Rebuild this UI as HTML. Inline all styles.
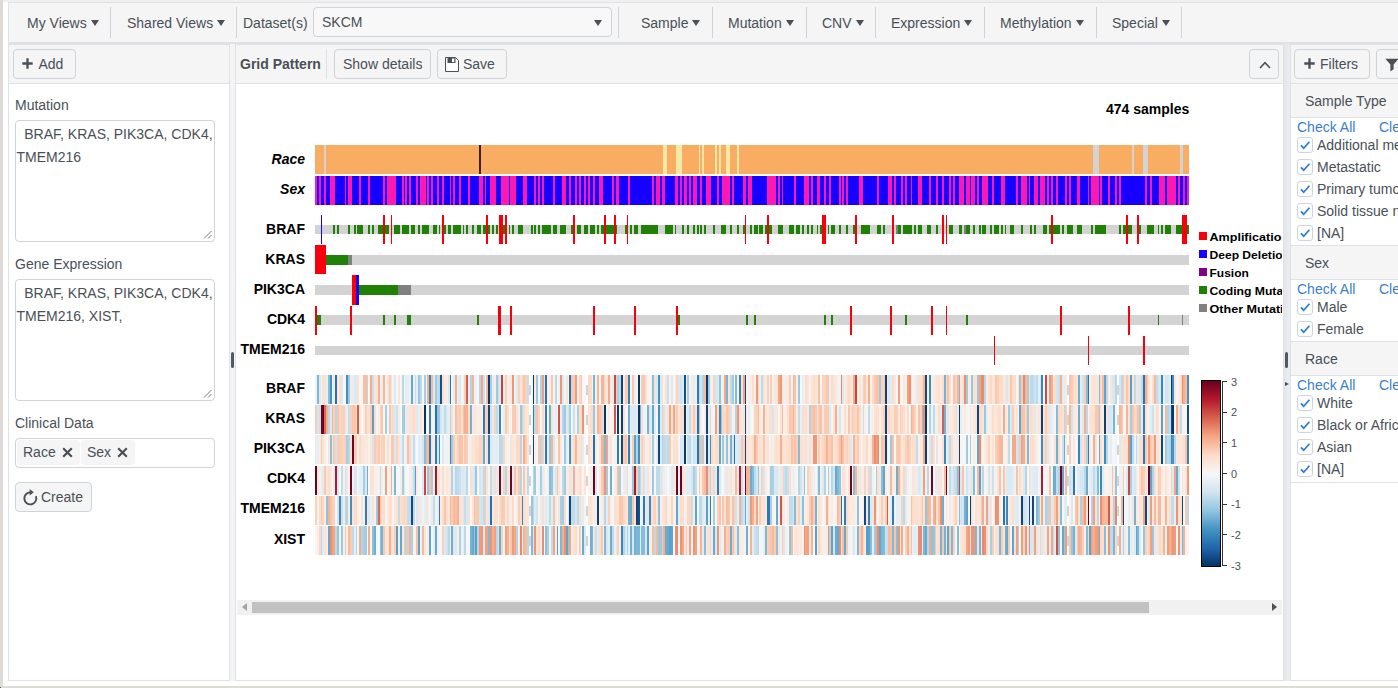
<!DOCTYPE html>
<html><head><meta charset="utf-8"><title>Grid Pattern</title>
<style>
*{box-sizing:border-box}
html,body{margin:0;padding:0}
body{width:1398px;height:688px;overflow:hidden;position:relative;background:#fff;font-family:"Liberation Sans",sans-serif;font-size:14px;color:#495057}
.abs{position:absolute}
#edgeL{left:0;top:0;width:3px;height:688px;background:#dedbd6}
#edgeT{left:3px;top:0;width:1395px;height:2px;background:#f0f0f0}
#edgeB{left:0;top:686px;width:1398px;height:2px;background:#dedbd6}
#toolbar{left:8px;top:2px;width:1400px;height:41px;background:#f5f5f5;border:1px solid #dee2e6}
#strip{left:8px;top:42px;width:1400px;height:2px;background:#dfe1e5}
.mi{position:absolute;top:15px;height:16px;line-height:16px;white-space:nowrap}
.mi:after{content:"";display:inline-block;margin-left:4px;border-left:4px solid transparent;border-right:4px solid transparent;border-top:6px solid #495057;vertical-align:2px}
.sep{position:absolute;top:7px;width:1px;height:31px;background:#cfd2d6}
.btn{position:absolute;height:30px;border:1px solid #ced4da;border-radius:4px;background:#f5f5f5;line-height:28px;white-space:nowrap;color:#495057}
.btn span{position:absolute;top:0;line-height:28px}
.btn svg{position:absolute}
.panel{position:absolute;border:1px solid #dee2e6;background:#fff}
.phead{position:absolute;left:0;top:0;right:0;height:39px;background:#f5f5f5;border-bottom:1px solid #dee2e6}
.lbl{position:absolute;white-space:nowrap;line-height:16px}
.ta{position:absolute;left:15px;width:200px;height:122px;border:1px solid #ced4da;border-radius:4px;background:#fff;padding:2px 0 0 0.5px;line-height:23px;white-space:pre}
.gl{position:absolute;white-space:nowrap;font-weight:bold;color:#000;right:1093px;line-height:16px}
.fh{position:absolute;left:1291px;width:120px;height:35px;background:#f5f5f5;border-top:1px solid #dee2e6;border-bottom:1px solid #dee2e6}
.fh span{position:absolute;left:14px;top:9px;line-height:16px;white-space:nowrap}
.lnk{position:absolute;color:#3a80c9;white-space:nowrap;line-height:16px}
.cb{position:absolute;left:1297px;width:16px;height:16px;border:1px solid #ced4da;border-radius:3px;background:#fff}
.cb svg{position:absolute;left:1px;top:1px}
.cl{position:absolute;left:1317px;white-space:nowrap;line-height:16px}
.grip{position:absolute;width:3px;height:16px;border-radius:1.5px;background:#52586a;top:352px}
</style></head><body>
<div class="abs" id="edgeT"></div>
<div class="abs" id="toolbar"></div>
<div class="abs" id="strip"></div>
<span class="mi" style="left:27px">My Views</span>
<div class="sep" style="left:110px"></div>
<span class="mi" style="left:127px">Shared Views</span>
<div class="sep" style="left:236px"></div>
<span class="lbl" style="left:243px;top:15px">Dataset(s)</span>
<div class="abs" style="left:313px;top:7px;width:299px;height:30px;border:1px solid #ced4da;border-radius:4px;background:#f8f8f8"><span class="lbl" style="left:8px;top:6px">SKCM</span><span class="abs" style="left:280px;top:12px;border-left:4px solid transparent;border-right:4px solid transparent;border-top:6px solid #495057"></span></div>
<div class="sep" style="left:618px"></div>
<span class="mi" style="left:641px">Sample</span>
<div class="sep" style="left:712px"></div>
<span class="mi" style="left:728px">Mutation</span>
<div class="sep" style="left:806px"></div>
<span class="mi" style="left:822px">CNV</span>
<div class="sep" style="left:875px"></div>
<span class="mi" style="left:891px">Expression</span>
<div class="sep" style="left:984px"></div>
<span class="mi" style="left:1000px">Methylation</span>
<div class="sep" style="left:1096px"></div>
<span class="mi" style="left:1112px">Special</span>
<div class="sep" style="left:1181px"></div>

<!-- left panel -->
<div class="panel" style="left:8px;top:44px;width:222px;height:637px">
 <div class="phead"></div>
</div>
<div class="btn" style="left:13px;top:49px;width:63px"><svg style="left:8px;top:8px" width="11" height="11" viewBox="0 0 11 11"><path d="M5.5 0.3v10.4M0.3 5.5h10.4" stroke="#495057" stroke-width="2.3" fill="none"/></svg><span style="left:24.5px">Add</span></div>
<span class="lbl" style="left:15px;top:97px">Mutation</span>
<div class="ta" style="top:120px">  BRAF, KRAS, PIK3CA, CDK4,
TMEM216<svg class="abs" style="right:2px;bottom:2px" width="9" height="9" viewBox="0 0 9 9"><path d="M8.5 1L1 8.5M8.5 5L5 8.5" stroke="#777" stroke-width="1" fill="none"/></svg></div>
<span class="lbl" style="left:15px;top:256px">Gene Expression</span>
<div class="ta" style="top:279px">  BRAF, KRAS, PIK3CA, CDK4,
TMEM216, XIST,<svg class="abs" style="right:2px;bottom:2px" width="9" height="9" viewBox="0 0 9 9"><path d="M8.5 1L1 8.5M8.5 5L5 8.5" stroke="#777" stroke-width="1" fill="none"/></svg></div>
<span class="lbl" style="left:15px;top:415px">Clinical Data</span>
<div class="abs" style="left:15px;top:438px;width:200px;height:30px;border:1px solid #ced4da;border-radius:4px;background:#fff"></div>
<div class="abs" style="left:17px;top:440px;width:63px;height:25px;background:#f5f5f5;border-radius:4px"><span class="lbl" style="left:6px;top:4px">Race</span><svg class="abs" style="left:45px;top:7px" width="11" height="11" viewBox="0 0 11 11"><path d="M1.2 1.2l8.6 8.6M9.8 1.2l-8.6 8.6" stroke="#495057" stroke-width="2.2" fill="none"/></svg></div>
<div class="abs" style="left:81px;top:440px;width:54px;height:25px;background:#f5f5f5;border-radius:4px"><span class="lbl" style="left:6px;top:4px">Sex</span><svg class="abs" style="left:36px;top:7px" width="11" height="11" viewBox="0 0 11 11"><path d="M1.2 1.2l8.6 8.6M9.8 1.2l-8.6 8.6" stroke="#495057" stroke-width="2.2" fill="none"/></svg></div>
<div class="btn" style="left:15px;top:482px;width:77px"><svg style="left:6px;top:6px" width="16" height="17" viewBox="0 0 16 17"><path d="M8.6 3.4A6 6 0 1 0 13.9 7.2" stroke="#495057" stroke-width="1.9" fill="none"/><path d="M7.6 0L11.8 3.3L7.6 6.6z" fill="#495057"/></svg><span style="left:25px">Create</span></div>

<!-- gutters -->
<div class="abs" style="left:229px;top:44px;width:7px;height:637px;background:#f4f4f5;border-left:1px solid #dfe1e5;border-right:1px solid #dfe1e5"></div>
<div class="grip" style="left:231px"></div>

<!-- center panel -->
<div class="panel" style="left:235px;top:44px;width:1049px;height:637px;border-right:none">
 <div class="phead"></div>
</div>
<span class="lbl" style="left:240px;top:56px;font-weight:bold">Grid Pattern</span>
<div class="sep" style="left:326px;top:49px;height:30px;background:#dee2e6"></div>
<div class="btn" style="left:334px;top:49px;width:97px"><span style="left:8px">Show details</span></div>
<div class="btn" style="left:437px;top:49px;width:70px"><svg style="left:7px;top:7px" width="15" height="15" viewBox="0 0 15 15"><path d="M0.5 0.5H10.5L13.5 3.5V14.5H0.5z" fill="#fff" stroke="#495057" stroke-width="1"/><path d="M2.5 1h8v5h-8z" fill="#495057"/><path d="M7 1.5h2.3v3.6H7z" fill="#fff"/></svg><span style="left:25px">Save</span></div>
<div class="btn" style="left:1249px;top:49px;width:30px"><svg style="left:9px;top:11px" width="12" height="8" viewBox="0 0 12 8"><path d="M1 7L6 1.6L11 7" stroke="#495057" stroke-width="1.6" fill="none"/></svg></div>
<svg id="fig" width="1046" height="520" viewBox="236 84 1046 520" style="position:absolute;left:236px;top:84px" shape-rendering="crispEdges">
<path fill="#f9ad62" d="M315 145h874v29h-874z"/>
<path fill="#f6e9a8" d="M663 145h4v29h-4zM676 145h6v29h-6zM699 145h1v29h-1zM702 145h2v29h-2zM715 145h2v29h-2zM719 145h2v29h-2zM726 145h4v29h-4zM737 145h2v29h-2z"/>
<path fill="#d3d3d3" d="M324 145h2v29h-2zM1093 145h6v29h-6zM1132 145h2v29h-2zM1143 145h5v29h-5zM1180 145h3v29h-3zM315 225h874v9h-874zM315 255h874v10h-874zM315 285h874v10h-874zM315 315h874v10h-874zM315 346h874v9h-874zM529 385h2v9.6h-2zM586 385h2v9.6h-2zM1067 385h2v9.6h-2zM1117 385h2v9.6h-2zM529 415h2v9.6h-2zM586 415h2v9.6h-2zM1067 415h2v9.6h-2zM1117 415h2v9.6h-2zM529 445h2v9.6h-2zM586 445h2v9.6h-2zM1067 445h2v9.6h-2zM1117 445h2v9.6h-2zM529 476h2v9.6h-2zM586 476h2v9.6h-2zM1067 476h2v9.6h-2zM1117 476h2v9.6h-2zM529 506h2v9.6h-2zM586 506h2v9.6h-2zM1067 506h2v9.6h-2zM1117 506h2v9.6h-2zM529 536h2v9.6h-2zM586 536h2v9.6h-2zM1067 536h2v9.6h-2zM1117 536h2v9.6h-2z"/>
<path fill="#3a2318" d="M479 145h2v29h-2z"/>
<path fill="#1600ff" d="M315 176h874v29h-874z"/>
<path fill="#fb19b1" d="M315 176h2v29h-2zM319 176h2v29h-2zM324 176h2v29h-2zM330 176h5v29h-5zM345 176h1v29h-1zM348 176h4v29h-4zM359 176h2v29h-2zM368 176h2v29h-2zM383 176h2v29h-2zM387 176h9v29h-9zM402 176h2v29h-2zM405 176h2v29h-2zM409 176h2v29h-2zM416 176h2v29h-2zM420 176h6v29h-6zM427 176h2v29h-2zM431 176h2v29h-2zM437 176h2v29h-2zM442 176h2v29h-2zM450 176h1v29h-1zM453 176h2v29h-2zM459 176h2v29h-2zM468 176h2v29h-2zM479 176h4v29h-4zM485 176h1v29h-1zM490 176h6v29h-6zM501 176h8v29h-8zM510 176h6v29h-6zM523 176h4v29h-4zM534 176h2v29h-2zM538 176h2v29h-2zM542 176h2v29h-2zM553 176h2v29h-2zM562 176h4v29h-4zM569 176h2v29h-2zM575 176h2v29h-2zM579 176h2v29h-2zM584 176h2v29h-2zM588 176h2v29h-2zM593 176h2v29h-2zM599 176h4v29h-4zM612 176h2v29h-2zM616 176h3v29h-3zM628 176h2v29h-2zM652 176h2v29h-2zM656 176h4v29h-4zM662 176h3v29h-3zM675 176h3v29h-3zM680 176h2v29h-2zM684 176h3v29h-3zM689 176h2v29h-2zM693 176h4v29h-4zM700 176h2v29h-2zM706 176h5v29h-5zM717 176h2v29h-2zM722 176h8v29h-8zM732 176h2v29h-2zM743 176h3v29h-3zM748 176h4v29h-4zM767 176h9v29h-9zM778 176h2v29h-2zM782 176h1v29h-1zM794 176h2v29h-2zM804 176h5v29h-5zM811 176h2v29h-2zM817 176h3v29h-3zM824 176h2v29h-2zM829 176h2v29h-2zM839 176h2v29h-2zM842 176h2v29h-2zM846 176h2v29h-2zM859 176h4v29h-4zM877 176h2v29h-2zM888 176h4v29h-4zM894 176h2v29h-2zM901 176h2v29h-2zM905 176h2v29h-2zM911 176h1v29h-1zM918 176h4v29h-4zM929 176h2v29h-2zM936 176h2v29h-2zM942 176h2v29h-2zM949 176h2v29h-2zM953 176h2v29h-2zM959 176h5v29h-5zM966 176h4v29h-4zM971 176h4v29h-4zM977 176h2v29h-2zM982 176h6v29h-6zM992 176h2v29h-2zM1001 176h4v29h-4zM1016 176h2v29h-2zM1021 176h6v29h-6zM1029 176h1v29h-1zM1034 176h4v29h-4zM1040 176h5v29h-5zM1047 176h2v29h-2zM1051 176h2v29h-2zM1056 176h2v29h-2zM1065 176h2v29h-2zM1069 176h2v29h-2zM1077 176h3v29h-3zM1088 176h1v29h-1zM1091 176h8v29h-8zM1100 176h2v29h-2zM1108 176h2v29h-2zM1115 176h2v29h-2zM1119 176h2v29h-2zM1145 176h2v29h-2zM1150 176h2v29h-2zM1159 176h6v29h-6zM1167 176h9v29h-9zM1178 176h2v29h-2zM1183 176h2v29h-2zM1187 176h2v29h-2z"/>
<path fill="#1f8207" d="M333 225h2v9h-2zM337 225h2v9h-2zM348 225h2v9h-2zM354 225h2v9h-2zM357 225h6v9h-6zM368 225h2v9h-2zM372 225h2v9h-2zM378 225h11v9h-11zM394 225h6v9h-6zM402 225h7v9h-7zM411 225h4v9h-4zM418 225h2v9h-2zM422 225h7v9h-7zM433 225h4v9h-4zM439 225h1v9h-1zM442 225h4v9h-4zM448 225h3v9h-3zM453 225h8v9h-8zM463 225h1v9h-1zM466 225h2v9h-2zM472 225h2v9h-2zM477 225h4v9h-4zM483 225h7v9h-7zM492 225h2v9h-2zM496 225h2v9h-2zM499 225h6v9h-6zM509 225h1v9h-1zM512 225h2v9h-2zM518 225h5v9h-5zM531 225h2v9h-2zM534 225h2v9h-2zM538 225h2v9h-2zM542 225h9v9h-9zM553 225h4v9h-4zM560 225h6v9h-6zM571 225h4v9h-4zM577 225h4v9h-4zM584 225h4v9h-4zM590 225h5v9h-5zM597 225h2v9h-2zM601 225h16v9h-16zM625 225h3v9h-3zM630 225h2v9h-2zM634 225h4v9h-4zM641 225h17v9h-17zM665 225h8v9h-8zM675 225h1v9h-1zM682 225h2v9h-2zM687 225h2v9h-2zM693 225h2v9h-2zM697 225h2v9h-2zM700 225h2v9h-2zM704 225h2v9h-2zM713 225h2v9h-2zM721 225h5v9h-5zM730 225h2v9h-2zM737 225h2v9h-2zM743 225h3v9h-3zM750 225h2v9h-2zM754 225h4v9h-4zM759 225h4v9h-4zM765 225h7v9h-7zM778 225h5v9h-5zM789 225h5v9h-5zM796 225h4v9h-4zM802 225h2v9h-2zM807 225h2v9h-2zM811 225h2v9h-2zM817 225h1v9h-1zM820 225h6v9h-6zM828 225h1v9h-1zM831 225h4v9h-4zM839 225h2v9h-2zM846 225h2v9h-2zM853 225h4v9h-4zM861 225h9v9h-9zM877 225h4v9h-4zM883 225h2v9h-2zM898 225h3v9h-3zM903 225h9v9h-9zM914 225h2v9h-2zM918 225h4v9h-4zM927 225h4v9h-4zM936 225h2v9h-2zM949 225h4v9h-4zM959 225h3v9h-3zM966 225h4v9h-4zM973 225h2v9h-2zM979 225h2v9h-2zM982 225h4v9h-4zM990 225h2v9h-2zM994 225h5v9h-5zM1001 225h2v9h-2zM1005 225h1v9h-1zM1010 225h4v9h-4zM1021 225h2v9h-2zM1030 225h2v9h-2zM1034 225h2v9h-2zM1043 225h4v9h-4zM1049 225h11v9h-11zM1062 225h2v9h-2zM1067 225h6v9h-6zM1077 225h5v9h-5zM1091 225h2v9h-2zM1095 225h11v9h-11zM1119 225h2v9h-2zM1123 225h9v9h-9zM1137 225h4v9h-4zM1147 225h7v9h-7zM1158 225h1v9h-1zM1161 225h2v9h-2zM1165 225h6v9h-6zM1176 225h13v9h-13zM326 255h22v10h-22zM359 285h39v10h-39zM317 315h4v10h-4zM383 315h2v10h-2zM394 315h2v10h-2zM407 315h4v10h-4zM477 315h2v10h-2zM678 315h2v10h-2zM746 315h2v10h-2zM754 315h2v10h-2zM824 315h2v10h-2zM831 315h2v10h-2zM905 315h2v10h-2zM966 315h2v10h-2zM1158 315h1v10h-1z"/>
<path fill="#808080" d="M896 225h2v9h-2zM964 225h2v9h-2zM348 255h4v10h-4zM398 285h13v10h-13zM1182 315h1v10h-1z"/>
<path fill="#f7000c" d="M383 215h2v29h-2zM391 215h1v29h-1zM442 215h2v29h-2zM486 215h2v29h-2zM499 215h4v29h-4zM505 215h2v29h-2zM573 215h2v29h-2zM604 215h2v29h-2zM614 215h2v29h-2zM627 215h1v29h-1zM745 215h1v29h-1zM767 215h2v29h-2zM822 215h4v29h-4zM855 215h2v29h-2zM892 215h2v29h-2zM942 215h2v29h-2zM946 215h1v29h-1zM1051 215h2v29h-2zM1126 215h2v29h-2zM1137 215h2v29h-2zM1182 215h5v29h-5zM315 245h11v29h-11zM352 275h4v30h-4zM315 306h2v29h-2zM350 306h2v29h-2zM498 306h3v29h-3zM510 306h2v29h-2zM593 306h2v29h-2zM634 306h2v29h-2zM676 306h2v29h-2zM850 306h2v29h-2zM890 306h2v29h-2zM931 306h2v29h-2zM946 306h1v29h-1zM1060 306h2v29h-2zM1128 306h2v29h-2zM994 336h1v29h-1zM1088 336h1v29h-1zM1143 336h2v29h-2z"/>
<path fill="#1a00ff" d="M321 215h1v29h-1zM356 275h3v30h-3z"/>
<path fill="#eef2f5" d="M315 375h2v29h-2zM385 375h2v29h-2zM413 375h2v29h-2zM463 375h1v29h-1zM474 375h3v29h-3zM514 375h2v29h-2zM558 375h2v29h-2zM577 375h2v29h-2zM595 375h2v29h-2zM695 375h2v29h-2zM711 375h2v29h-2zM721 375h1v29h-1zM772 375h2v29h-2zM852 375h1v29h-1zM970 375h1v29h-1zM433 405h2v29h-2zM544 405h1v29h-1zM553 405h2v29h-2zM560 405h2v29h-2zM595 405h2v29h-2zM643 405h2v29h-2zM711 405h2v29h-2zM931 405h2v29h-2zM935 405h1v29h-1zM1123 405h1v29h-1zM389 435h2v29h-2zM404 435h3v29h-3zM415 435h1v29h-1zM446 435h2v29h-2zM468 435h2v29h-2zM505 435h2v29h-2zM630 435h2v29h-2zM852 435h1v29h-1zM1040 435h1v29h-1zM1053 435h1v29h-1zM1108 435h2v29h-2zM1115 435h2v29h-2zM1134 435h2v29h-2zM343 466h2v29h-2zM352 466h2v29h-2zM392 466h2v29h-2zM538 466h2v29h-2zM547 466h2v29h-2zM665 466h2v29h-2zM669 466h2v29h-2zM675 466h1v29h-1zM743 466h2v29h-2zM794 466h2v29h-2zM872 466h2v29h-2zM964 466h2v29h-2zM995 466h2v29h-2zM1014 466h2v29h-2zM1047 466h2v29h-2zM1064 466h1v29h-1zM1119 466h4v29h-4zM363 496h2v29h-2zM610 496h2v29h-2zM641 496h2v29h-2zM778 496h2v29h-2zM817 496h1v29h-1zM1030 496h2v29h-2zM1130 496h2v29h-2zM343 526h2v29h-2zM398 526h2v29h-2zM420 526h2v29h-2zM437 526h2v29h-2zM461 526h2v29h-2zM577 526h2v29h-2zM603 526h1v29h-1zM722 526h2v29h-2zM780 526h2v29h-2zM817 526h1v29h-1zM848 526h2v29h-2zM1165 526h2v29h-2z"/>
<path fill="#80b9d8" d="M317 375h2v29h-2zM1036 496h2v29h-2z"/>
<path fill="#daeaf2" d="M319 375h2v29h-2zM354 375h3v29h-3zM433 375h2v29h-2zM448 375h2v29h-2zM459 375h2v29h-2zM516 375h2v29h-2zM544 375h1v29h-1zM656 375h2v29h-2zM671 375h2v29h-2zM842 375h2v29h-2zM888 375h2v29h-2zM391 405h1v29h-1zM394 405h2v29h-2zM416 405h2v29h-2zM498 405h1v29h-1zM603 405h1v29h-1zM649 405h2v29h-2zM817 405h1v29h-1zM829 405h2v29h-2zM947 405h2v29h-2zM1010 405h2v29h-2zM1082 405h2v29h-2zM394 435h2v29h-2zM442 435h2v29h-2zM660 435h2v29h-2zM682 435h2v29h-2zM708 435h2v29h-2zM850 435h2v29h-2zM933 435h2v29h-2zM1047 435h2v29h-2zM365 466h2v29h-2zM404 466h1v29h-1zM422 466h2v29h-2zM671 466h2v29h-2zM719 466h2v29h-2zM817 466h1v29h-1zM822 466h2v29h-2zM857 466h2v29h-2zM960 466h2v29h-2zM1006 466h2v29h-2zM1010 466h2v29h-2zM1023 466h2v29h-2zM1126 466h2v29h-2zM1172 466h2v29h-2zM368 496h2v29h-2zM416 496h2v29h-2zM488 496h2v29h-2zM568 496h1v29h-1zM647 496h2v29h-2zM870 496h2v29h-2zM988 496h2v29h-2zM1148 496h2v29h-2zM444 526h2v29h-2zM453 526h4v29h-4zM533 526h1v29h-1zM584 526h2v29h-2zM616 526h1v29h-1zM625 526h2v29h-2zM715 526h2v29h-2zM719 526h2v29h-2zM970 526h1v29h-1zM1027 526h2v29h-2zM1041 526h2v29h-2zM1139 526h2v29h-2z"/>
<path fill="#f8f0eb" d="M321 375h1v29h-1zM332 375h1v29h-1zM380 375h1v29h-1zM409 375h2v29h-2zM503 375h2v29h-2zM547 375h2v29h-2zM592 375h1v29h-1zM651 375h1v29h-1zM722 375h2v29h-2zM737 375h2v29h-2zM796 375h2v29h-2zM809 375h2v29h-2zM870 375h2v29h-2zM931 375h2v29h-2zM422 405h2v29h-2zM431 405h2v29h-2zM612 405h2v29h-2zM971 405h2v29h-2zM988 405h2v29h-2zM1182 405h1v29h-1zM385 435h2v29h-2zM433 435h2v29h-2zM498 435h1v29h-1zM507 435h2v29h-2zM534 435h2v29h-2zM555 435h2v29h-2zM645 435h2v29h-2zM918 435h2v29h-2zM319 466h2v29h-2zM374 466h6v29h-6zM387 466h4v29h-4zM426 466h1v29h-1zM630 466h2v29h-2zM649 466h2v29h-2zM721 466h1v29h-1zM863 466h1v29h-1zM888 466h2v29h-2zM925 466h2v29h-2zM986 466h2v29h-2zM1088 466h1v29h-1zM1104 466h2v29h-2zM1108 466h4v29h-4zM422 496h2v29h-2zM429 496h2v29h-2zM435 496h2v29h-2zM538 496h2v29h-2zM669 496h2v29h-2zM673 496h3v29h-3zM772 496h2v29h-2zM824 496h2v29h-2zM829 496h2v29h-2zM835 496h2v29h-2zM855 496h2v29h-2zM888 496h2v29h-2zM894 496h2v29h-2zM999 496h2v29h-2zM339 526h2v29h-2zM346 526h2v29h-2zM413 526h2v29h-2zM426 526h1v29h-1zM450 526h1v29h-1zM518 526h2v29h-2zM549 526h2v29h-2zM743 526h2v29h-2zM855 526h2v29h-2zM1084 526h2v29h-2zM1126 526h2v29h-2z"/>
<path fill="#fbe3d4" d="M322 375h2v29h-2zM367 405h1v29h-1zM953 405h2v29h-2zM579 435h2v29h-2zM820 435h2v29h-2zM942 435h2v29h-2zM590 496h2v29h-2zM761 496h2v29h-2zM1003 526h2v29h-2z"/>
<path fill="#fce1d2" d="M324 375h2v29h-2zM741 375h2v29h-2zM962 375h2v29h-2zM368 405h2v29h-2zM451 405h2v29h-2zM739 405h2v29h-2zM486 435h2v29h-2zM809 435h2v29h-2zM1158 435h1v29h-1zM842 466h2v29h-2zM468 496h2v29h-2zM828 496h1v29h-1zM1147 526h1v29h-1z"/>
<path fill="#e5eef4" d="M326 375h2v29h-2zM1051 405h2v29h-2zM420 435h2v29h-2zM691 435h2v29h-2zM1137 435h2v29h-2zM623 466h2v29h-2zM1064 496h1v29h-1zM872 526h2v29h-2z"/>
<path fill="#87beda" d="M328 375h2v29h-2zM922 405h1v29h-1zM704 526h2v29h-2z"/>
<path fill="#4190c2" d="M330 375h2v29h-2z"/>
<path fill="#e4eef4" d="M333 375h2v29h-2zM352 375h2v29h-2zM381 375h2v29h-2zM407 375h2v29h-2zM416 375h2v29h-2zM453 375h2v29h-2zM457 375h2v29h-2zM468 375h2v29h-2zM492 375h2v29h-2zM612 375h2v29h-2zM693 375h2v29h-2zM802 375h2v29h-2zM829 375h2v29h-2zM1038 375h2v29h-2zM405 405h2v29h-2zM418 405h2v29h-2zM503 405h2v29h-2zM555 405h2v29h-2zM651 405h1v29h-1zM654 405h2v29h-2zM665 405h2v29h-2zM748 405h2v29h-2zM957 405h2v29h-2zM960 405h2v29h-2zM986 405h2v29h-2zM411 435h2v29h-2zM494 435h2v29h-2zM547 435h2v29h-2zM566 435h2v29h-2zM608 435h2v29h-2zM656 435h2v29h-2zM807 435h2v29h-2zM1110 435h2v29h-2zM333 466h2v29h-2zM361 466h2v29h-2zM411 466h2v29h-2zM453 466h2v29h-2zM501 466h2v29h-2zM542 466h2v29h-2zM616 466h1v29h-1zM678 466h2v29h-2zM689 466h2v29h-2zM724 466h2v29h-2zM728 466h2v29h-2zM759 466h2v29h-2zM793 466h1v29h-1zM811 466h2v29h-2zM866 466h2v29h-2zM935 466h1v29h-1zM968 466h2v29h-2zM1089 466h2v29h-2zM370 496h2v29h-2zM420 496h2v29h-2zM424 496h2v29h-2zM427 496h2v29h-2zM437 496h2v29h-2zM555 496h2v29h-2zM678 496h2v29h-2zM708 496h2v29h-2zM746 496h2v29h-2zM800 496h2v29h-2zM890 496h2v29h-2zM896 496h5v29h-5zM984 496h2v29h-2zM1005 496h1v29h-1zM1018 496h1v29h-1zM1128 496h2v29h-2zM1174 496h2v29h-2zM433 526h2v29h-2zM463 526h1v29h-1zM540 526h2v29h-2zM628 526h2v29h-2zM640 526h1v29h-1zM687 526h2v29h-2zM711 526h2v29h-2zM852 526h1v29h-1zM916 526h2v29h-2zM922 526h1v29h-1zM981 526h1v29h-1zM1038 526h2v29h-2zM1045 526h2v29h-2zM1049 526h2v29h-2zM1121 526h2v29h-2zM1124 526h2v29h-2z"/>
<path fill="#276fb0" d="M335 375h2v29h-2z"/>
<path fill="#faeae1" d="M337 375h2v29h-2zM509 375h3v29h-3zM741 405h2v29h-2zM1077 405h1v29h-1zM870 435h2v29h-2zM984 435h2v29h-2zM568 466h1v29h-1zM595 496h2v29h-2zM730 496h2v29h-2zM765 496h2v29h-2zM831 496h2v29h-2zM850 496h2v29h-2zM883 496h2v29h-2zM798 526h2v29h-2z"/>
<path fill="#fcddcb" d="M339 375h2v29h-2zM805 375h2v29h-2zM374 405h2v29h-2zM876 405h1v29h-1zM907 405h2v29h-2zM359 435h2v29h-2z"/>
<path fill="#dae9f2" d="M341 375h2v29h-2zM562 375h2v29h-2zM660 375h2v29h-2zM682 375h2v29h-2zM1112 375h1v29h-1zM634 405h2v29h-2zM687 405h2v29h-2zM680 435h2v29h-2zM905 466h2v29h-2zM1008 466h2v29h-2z"/>
<path fill="#f7f7f7" d="M343 375h2v29h-2zM396 375h2v29h-2zM477 375h2v29h-2zM531 375h2v29h-2zM582 375h4v29h-4zM599 375h2v29h-2zM769 375h1v29h-1zM800 375h2v29h-2zM820 375h2v29h-2zM900 375h1v29h-1zM927 375h2v29h-2zM1043 375h2v29h-2zM1047 375h2v29h-2zM361 405h2v29h-2zM400 405h2v29h-2zM427 405h2v29h-2zM501 405h2v29h-2zM531 405h2v29h-2zM557 405h1v29h-1zM584 405h2v29h-2zM656 405h2v29h-2zM702 405h2v29h-2zM713 405h2v29h-2zM750 405h4v29h-4zM927 405h2v29h-2zM326 435h2v29h-2zM416 435h2v29h-2zM440 435h2v29h-2zM531 435h2v29h-2zM557 435h1v29h-1zM568 435h1v29h-1zM584 435h2v29h-2zM619 435h2v29h-2zM654 435h2v29h-2zM686 435h1v29h-1zM888 435h2v29h-2zM971 435h2v29h-2zM994 435h1v29h-1zM1113 435h2v29h-2zM332 466h1v29h-1zM339 466h2v29h-2zM383 466h2v29h-2zM396 466h4v29h-4zM407 466h2v29h-2zM420 466h2v29h-2zM477 466h2v29h-2zM531 466h2v29h-2zM597 466h2v29h-2zM612 466h2v29h-2zM667 466h2v29h-2zM722 466h2v29h-2zM826 466h2v29h-2zM887 466h1v29h-1zM933 466h2v29h-2zM975 466h2v29h-2zM1018 466h1v29h-1zM1027 466h2v29h-2zM1043 466h2v29h-2zM335 496h2v29h-2zM470 496h2v29h-2zM566 496h2v29h-2zM697 496h2v29h-2zM711 496h2v29h-2zM758 496h1v29h-1zM842 496h2v29h-2zM931 496h2v29h-2zM1062 496h2v29h-2zM1073 496h2v29h-2zM1089 496h2v29h-2zM1119 496h2v29h-2zM1124 496h2v29h-2zM378 526h2v29h-2zM431 526h2v29h-2zM439 526h1v29h-1zM468 526h2v29h-2zM503 526h2v29h-2zM522 526h1v29h-1zM544 526h1v29h-1zM581 526h1v29h-1zM588 526h2v29h-2zM651 526h1v29h-1zM673 526h2v29h-2zM793 526h1v29h-1zM813 526h2v29h-2zM959 526h1v29h-1zM1141 526h2v29h-2zM1176 526h2v29h-2z"/>
<path fill="#f8f5f3" d="M345 375h1v29h-1zM359 375h4v29h-4zM368 375h2v29h-2zM400 375h2v29h-2zM422 375h2v29h-2zM426 375h1v29h-1zM451 375h2v29h-2zM461 375h2v29h-2zM485 375h1v29h-1zM649 375h2v29h-2zM673 375h2v29h-2zM901 375h2v29h-2zM1016 375h2v29h-2zM426 405h1v29h-1zM547 405h2v29h-2zM571 405h2v29h-2zM610 405h2v29h-2zM625 405h2v29h-2zM778 405h2v29h-2zM1115 405h2v29h-2zM1124 405h2v29h-2zM1174 405h2v29h-2zM1185 405h2v29h-2zM536 435h2v29h-2zM612 435h2v29h-2zM894 435h2v29h-2zM935 435h1v29h-1zM960 435h2v29h-2zM964 435h2v29h-2zM968 435h2v29h-2zM975 435h2v29h-2zM1038 435h2v29h-2zM1051 435h2v29h-2zM348 466h2v29h-2zM368 466h2v29h-2zM405 466h2v29h-2zM468 466h2v29h-2zM536 466h2v29h-2zM545 466h2v29h-2zM582 466h2v29h-2zM608 466h2v29h-2zM621 466h2v29h-2zM654 466h2v29h-2zM697 466h2v29h-2zM796 466h2v29h-2zM805 466h2v29h-2zM815 466h2v29h-2zM852 466h1v29h-1zM874 466h2v29h-2zM929 466h2v29h-2zM1001 466h2v29h-2zM1124 466h2v29h-2zM1137 466h2v29h-2zM359 496h2v29h-2zM557 496h1v29h-1zM612 496h2v29h-2zM774 496h2v29h-2zM859 496h4v29h-4zM968 496h2v29h-2zM1001 496h2v29h-2zM1099 496h1v29h-1zM1147 496h1v29h-1zM1183 496h2v29h-2zM367 526h1v29h-1zM370 526h2v29h-2zM376 526h2v29h-2zM415 526h1v29h-1zM466 526h2v29h-2zM678 526h2v29h-2zM745 526h1v29h-1zM903 526h2v29h-2z"/>
<path fill="#408fc1" d="M346 375h2v29h-2zM658 375h2v29h-2zM658 405h2v29h-2zM569 435h2v29h-2zM710 435h1v29h-1z"/>
<path fill="#9ccae1" d="M348 375h2v29h-2zM722 435h2v29h-2zM534 466h2v29h-2zM660 526h2v29h-2z"/>
<path fill="#faeae0" d="M350 375h2v29h-2zM940 375h2v29h-2zM475 405h2v29h-2zM951 405h2v29h-2zM994 405h1v29h-1zM448 466h2v29h-2zM684 466h2v29h-2zM901 466h2v29h-2zM1156 466h2v29h-2zM1141 496h2v29h-2zM826 526h2v29h-2zM864 526h2v29h-2z"/>
<path fill="#fce2d2" d="M357 375h2v29h-2zM1032 405h2v29h-2zM1100 435h2v29h-2zM437 466h2v29h-2zM782 466h1v29h-1zM1132 496h2v29h-2zM593 526h2v29h-2z"/>
<path fill="#f8bea2" d="M363 375h2v29h-2zM818 375h2v29h-2zM700 435h2v29h-2zM726 496h2v29h-2zM911 526h1v29h-1z"/>
<path fill="#f8bda1" d="M365 375h2v29h-2zM617 466h2v29h-2zM704 466h2v29h-2z"/>
<path fill="#b8d8e9" d="M367 375h1v29h-1zM1115 375h2v29h-2zM328 405h2v29h-2zM335 405h2v29h-2zM540 435h2v29h-2zM1174 435h2v29h-2zM455 466h2v29h-2zM345 496h1v29h-1zM533 496h1v29h-1zM604 496h2v29h-2zM464 526h2v29h-2zM927 526h2v29h-2z"/>
<path fill="#f5ab89" d="M370 375h2v29h-2z"/>
<path fill="#c8e1ee" d="M372 375h2v29h-2z"/>
<path fill="#fbe4d7" d="M374 375h4v29h-4zM391 375h1v29h-1zM520 375h2v29h-2zM566 375h2v29h-2zM654 375h2v29h-2zM675 375h1v29h-1zM728 375h2v29h-2zM776 375h2v29h-2zM807 375h2v29h-2zM887 375h1v29h-1zM911 375h1v29h-1zM1018 375h1v29h-1zM1095 375h2v29h-2zM359 405h2v29h-2zM409 405h4v29h-4zM420 405h2v29h-2zM516 405h2v29h-2zM588 405h2v29h-2zM623 405h2v29h-2zM667 405h2v29h-2zM695 405h2v29h-2zM708 405h2v29h-2zM743 405h2v29h-2zM833 405h2v29h-2zM892 405h2v29h-2zM946 405h1v29h-1zM970 405h1v29h-1zM975 405h2v29h-2zM982 405h2v29h-2zM1106 405h2v29h-2zM1141 405h2v29h-2zM328 435h2v29h-2zM332 435h1v29h-1zM398 435h2v29h-2zM431 435h2v29h-2zM510 435h2v29h-2zM527 435h2v29h-2zM571 435h2v29h-2zM577 435h2v29h-2zM610 435h2v29h-2zM640 435h1v29h-1zM649 435h2v29h-2zM783 435h2v29h-2zM802 435h2v29h-2zM1025 435h2v29h-2zM1054 435h2v29h-2zM1082 435h2v29h-2zM326 466h2v29h-2zM346 466h2v29h-2zM370 466h4v29h-4zM492 466h2v29h-2zM569 466h2v29h-2zM641 466h2v29h-2zM647 466h2v29h-2zM673 466h2v29h-2zM682 466h2v29h-2zM715 466h2v29h-2zM726 466h2v29h-2zM730 466h2v29h-2zM780 466h2v29h-2zM859 466h2v29h-2zM938 466h4v29h-4zM981 466h1v29h-1zM997 466h2v29h-2zM352 496h2v29h-2zM361 496h2v29h-2zM367 496h1v29h-1zM418 496h2v29h-2zM459 496h4v29h-4zM472 496h2v29h-2zM486 496h2v29h-2zM634 496h2v29h-2zM645 496h2v29h-2zM663 496h2v29h-2zM724 496h2v29h-2zM782 496h1v29h-1zM796 496h2v29h-2zM866 496h2v29h-2zM872 496h2v29h-2zM990 496h2v29h-2zM1078 496h2v29h-2zM1086 496h2v29h-2zM1095 496h2v29h-2zM324 526h2v29h-2zM385 526h2v29h-2zM536 526h2v29h-2zM706 526h2v29h-2zM778 526h2v29h-2zM909 526h2v29h-2zM946 526h1v29h-1zM1014 526h2v29h-2zM1154 526h2v29h-2z"/>
<path fill="#f6b191" d="M378 375h2v29h-2zM853 435h2v29h-2zM368 526h2v29h-2zM562 526h2v29h-2z"/>
<path fill="#f7b698" d="M383 375h2v29h-2zM957 375h2v29h-2zM1025 375h2v29h-2zM551 435h2v29h-2zM1001 435h2v29h-2zM748 466h2v29h-2zM855 466h2v29h-2z"/>
<path fill="#fbe4d6" d="M387 375h2v29h-2zM1077 375h1v29h-1zM1124 375h2v29h-2zM1132 375h2v29h-2zM415 405h1v29h-1zM551 405h2v29h-2zM1016 405h2v29h-2zM1029 405h1v29h-1zM463 435h1v29h-1zM778 435h2v29h-2zM833 435h2v29h-2zM876 496h1v29h-1zM684 526h2v29h-2zM1043 526h2v29h-2z"/>
<path fill="#fbccb4" d="M389 375h2v29h-2zM641 375h2v29h-2zM818 405h2v29h-2zM824 405h2v29h-2zM809 496h2v29h-2z"/>
<path fill="#f4f6f6" d="M392 375h2v29h-2zM404 375h1v29h-1zM538 375h2v29h-2zM557 375h1v29h-1zM564 375h2v29h-2zM568 375h1v29h-1zM630 375h2v29h-2zM636 375h2v29h-2zM640 375h1v29h-1zM689 375h2v29h-2zM734 375h1v29h-1zM746 375h2v29h-2zM951 375h2v29h-2zM383 405h2v29h-2zM387 405h2v29h-2zM540 405h2v29h-2zM575 405h2v29h-2zM606 405h2v29h-2zM616 405h1v29h-1zM619 405h2v29h-2zM627 405h1v29h-1zM645 405h2v29h-2zM831 405h2v29h-2zM968 405h2v29h-2zM1183 405h2v29h-2zM444 435h2v29h-2zM544 435h1v29h-1zM562 435h2v29h-2zM651 435h1v29h-1zM678 435h2v29h-2zM721 435h1v29h-1zM927 435h2v29h-2zM962 435h2v29h-2zM1010 435h2v29h-2zM1112 435h1v29h-1zM1163 435h2v29h-2zM357 466h2v29h-2zM418 466h2v29h-2zM498 466h1v29h-1zM522 466h1v29h-1zM628 466h2v29h-2zM651 466h1v29h-1zM767 466h2v29h-2zM942 466h2v29h-2zM984 466h2v29h-2zM994 466h1v29h-1zM1038 466h3v29h-3zM1045 466h2v29h-2zM1051 466h2v29h-2zM1075 466h2v29h-2zM1099 466h1v29h-1zM1106 466h2v29h-2zM1147 466h1v29h-1zM415 496h1v29h-1zM584 496h2v29h-2zM640 496h1v29h-1zM715 496h2v29h-2zM992 496h2v29h-2zM1034 496h2v29h-2zM1126 496h2v29h-2zM357 526h2v29h-2zM440 526h2v29h-2zM558 526h2v29h-2zM691 526h2v29h-2zM748 526h2v29h-2zM759 526h4v29h-4zM787 526h2v29h-2zM850 526h2v29h-2zM955 526h2v29h-2zM1010 526h2v29h-2zM1019 526h2v29h-2zM1060 526h2v29h-2z"/>
<path fill="#d9e9f1" d="M394 375h2v29h-2zM1139 375h2v29h-2zM739 435h2v29h-2zM555 466h2v29h-2zM774 466h2v29h-2zM918 466h2v29h-2zM463 496h1v29h-1zM483 526h2v29h-2z"/>
<path fill="#fbe5d8" d="M398 375h2v29h-2zM1005 375h1v29h-1zM1064 375h1v29h-1zM1091 375h2v29h-2zM671 405h2v29h-2zM887 405h1v29h-1zM361 435h2v29h-2zM599 435h2v29h-2zM675 435h1v29h-1zM581 466h1v29h-1zM900 466h1v29h-1zM391 496h1v29h-1zM525 496h2v29h-2zM588 496h2v29h-2zM509 526h1v29h-1zM820 526h2v29h-2z"/>
<path fill="#b7d8e9" d="M402 375h2v29h-2zM984 375h2v29h-2zM522 405h1v29h-1zM1064 405h1v29h-1zM1106 435h2v29h-2zM1084 466h2v29h-2zM407 526h2v29h-2zM448 526h2v29h-2zM758 526h1v29h-1z"/>
<path fill="#e2edf3" d="M405 375h2v29h-2zM1169 375h2v29h-2zM940 405h2v29h-2zM492 435h2v29h-2zM322 466h2v29h-2zM920 466h2v29h-2zM1102 466h2v29h-2zM322 526h2v29h-2zM597 526h2v29h-2zM702 526h2v29h-2z"/>
<path fill="#65a8ce" d="M411 375h2v29h-2z"/>
<path fill="#c4dfec" d="M415 375h1v29h-1z"/>
<path fill="#96c7df" d="M418 375h2v29h-2zM1071 526h2v29h-2zM1152 526h2v29h-2z"/>
<path fill="#bcdaea" d="M420 375h2v29h-2zM699 375h1v29h-1zM1030 375h4v29h-4zM1106 375h2v29h-2zM1169 405h2v29h-2zM658 466h2v29h-2zM741 496h2v29h-2z"/>
<path fill="#a3cee3" d="M424 375h2v29h-2zM970 435h1v29h-1zM431 466h2v29h-2zM876 466h1v29h-1zM1130 466h2v29h-2zM713 496h2v29h-2z"/>
<path fill="#f6af8f" d="M427 375h2v29h-2zM1060 375h2v29h-2zM1183 375h2v29h-2zM326 405h2v29h-2zM835 405h2v29h-2zM1084 405h2v29h-2zM391 466h1v29h-1zM573 466h2v29h-2zM898 466h2v29h-2zM1077 496h1v29h-1zM1121 496h2v29h-2zM507 526h2v29h-2zM907 526h2v29h-2zM1169 526h2v29h-2z"/>
<path fill="#3682ba" d="M429 375h2v29h-2zM739 375h2v29h-2z"/>
<path fill="#f7ba9c" d="M431 375h2v29h-2zM486 375h2v29h-2zM929 496h2v29h-2zM1154 496h2v29h-2z"/>
<path fill="#a0cce2" d="M435 375h2v29h-2zM732 375h2v29h-2zM564 466h2v29h-2zM1038 496h2v29h-2z"/>
<path fill="#bfdceb" d="M437 375h2v29h-2zM619 375h2v29h-2zM730 375h2v29h-2zM444 405h2v29h-2zM496 405h2v29h-2zM402 435h2v29h-2zM1136 435h1v29h-1zM341 466h2v29h-2zM457 466h2v29h-2zM656 466h2v29h-2zM754 466h2v29h-2zM949 466h2v29h-2zM955 466h2v29h-2zM433 496h2v29h-2zM483 496h2v29h-2zM571 496h2v29h-2zM1172 496h2v29h-2zM551 526h2v29h-2zM612 526h2v29h-2z"/>
<path fill="#b4d6e8" d="M439 375h1v29h-1zM479 375h2v29h-2zM499 435h2v29h-2zM520 435h2v29h-2zM505 466h2v29h-2zM527 526h2v29h-2z"/>
<path fill="#154f8b" d="M440 375h2v29h-2zM638 496h2v29h-2z"/>
<path fill="#fcdfcd" d="M442 375h2v29h-2zM1012 375h2v29h-2zM997 405h2v29h-2zM782 435h1v29h-1zM470 466h2v29h-2zM400 496h2v29h-2z"/>
<path fill="#f9eee8" d="M444 375h2v29h-2zM669 375h2v29h-2zM1108 375h2v29h-2zM1178 375h2v29h-2zM477 405h2v29h-2zM783 405h2v29h-2zM357 435h2v29h-2zM772 435h2v29h-2zM1029 435h1v29h-1zM444 466h2v29h-2zM791 466h2v29h-2zM684 496h2v29h-2zM804 496h1v29h-1zM699 526h1v29h-1z"/>
<path fill="#f9ede5" d="M446 375h2v29h-2zM750 375h2v29h-2zM864 405h2v29h-2zM936 405h2v29h-2zM1154 405h2v29h-2zM990 435h2v29h-2zM861 466h2v29h-2zM601 496h2v29h-2zM686 496h1v29h-1z"/>
<path fill="#2b74b3" d="M450 375h1v29h-1zM1073 466h2v29h-2z"/>
<path fill="#f5ad8d" d="M455 375h2v29h-2zM359 526h2v29h-2z"/>
<path fill="#fbd0b9" d="M464 375h2v29h-2zM525 375h2v29h-2zM883 375h2v29h-2zM997 375h2v29h-2zM343 405h2v29h-2zM601 405h2v29h-2zM920 405h2v29h-2zM457 435h2v29h-2zM824 435h2v29h-2zM828 435h1v29h-1zM636 466h2v29h-2zM333 496h2v29h-2zM813 496h2v29h-2zM881 496h2v29h-2zM394 526h2v29h-2zM905 526h2v29h-2zM1145 526h2v29h-2zM1148 526h2v29h-2z"/>
<path fill="#d55e4c" d="M466 375h2v29h-2z"/>
<path fill="#b1d5e7" d="M470 375h2v29h-2zM702 375h2v29h-2zM451 466h2v29h-2zM1047 496h2v29h-2zM361 526h2v29h-2zM1123 526h1v29h-1z"/>
<path fill="#f6b293" d="M472 375h2v29h-2zM1145 375h2v29h-2zM927 496h2v29h-2zM409 526h2v29h-2zM861 526h2v29h-2z"/>
<path fill="#f4a684" d="M481 375h2v29h-2zM1051 526h2v29h-2z"/>
<path fill="#cae2ee" d="M483 375h2v29h-2zM396 405h2v29h-2z"/>
<path fill="#0a396e" d="M488 375h2v29h-2zM706 375h2v29h-2zM1171 375h1v29h-1zM970 496h1v29h-1z"/>
<path fill="#a6cfe4" d="M490 375h2v29h-2zM385 405h2v29h-2zM363 466h2v29h-2zM363 526h2v29h-2z"/>
<path fill="#faebe3" d="M494 375h2v29h-2zM534 375h2v29h-2zM549 375h2v29h-2zM610 375h2v29h-2zM623 375h2v29h-2zM634 375h2v29h-2zM686 375h1v29h-1zM691 375h2v29h-2zM710 375h1v29h-1zM844 375h2v29h-2zM968 375h2v29h-2zM363 405h2v29h-2zM398 405h2v29h-2zM608 405h2v29h-2zM686 405h1v29h-1zM700 405h2v29h-2zM704 405h2v29h-2zM746 405h2v29h-2zM949 405h2v29h-2zM990 405h2v29h-2zM1005 405h3v29h-3zM1080 405h2v29h-2zM319 435h2v29h-2zM324 435h2v29h-2zM448 435h2v29h-2zM470 435h2v29h-2zM522 435h1v29h-1zM647 435h2v29h-2zM704 435h2v29h-2zM724 435h2v29h-2zM728 435h2v29h-2zM811 435h2v29h-2zM817 435h1v29h-1zM887 435h1v29h-1zM946 435h1v29h-1zM973 435h2v29h-2zM1049 435h2v29h-2zM1065 435h2v29h-2zM1147 435h1v29h-1zM381 466h2v29h-2zM400 466h2v29h-2zM409 466h2v29h-2zM416 466h2v29h-2zM433 466h2v29h-2zM525 466h2v29h-2zM544 466h1v29h-1zM614 466h2v29h-2zM700 466h2v29h-2zM765 466h2v29h-2zM769 466h1v29h-1zM813 466h2v29h-2zM820 466h2v29h-2zM829 466h2v29h-2zM885 466h2v29h-2zM990 466h2v29h-2zM1005 466h1v29h-1zM1021 466h2v29h-2zM1113 466h2v29h-2zM324 496h2v29h-2zM348 496h2v29h-2zM357 496h2v29h-2zM440 496h2v29h-2zM510 496h2v29h-2zM667 496h2v29h-2zM693 496h2v29h-2zM783 496h2v29h-2zM852 496h3v29h-3zM863 496h1v29h-1zM957 496h2v29h-2zM994 496h1v29h-1zM1008 496h2v29h-2zM1040 496h1v29h-1zM1043 496h2v29h-2zM1163 496h2v29h-2zM326 526h2v29h-2zM427 526h2v29h-2zM457 526h2v29h-2zM555 526h2v29h-2zM614 526h2v29h-2zM619 526h2v29h-2zM649 526h2v29h-2zM721 526h1v29h-1zM785 526h2v29h-2zM841 526h1v29h-1zM900 526h1v29h-1zM988 526h2v29h-2zM1106 526h2v29h-2z"/>
<path fill="#9ecbe1" d="M496 375h2v29h-2zM879 375h2v29h-2zM966 435h2v29h-2zM874 526h2v29h-2z"/>
<path fill="#c6dfed" d="M498 375h1v29h-1zM527 375h2v29h-2zM687 435h2v29h-2zM1053 526h1v29h-1z"/>
<path fill="#dbeaf2" d="M499 375h2v29h-2zM490 435h2v29h-2zM947 435h2v29h-2zM481 466h2v29h-2zM971 466h2v29h-2zM1051 496h2v29h-2z"/>
<path fill="#c53f3d" d="M501 375h2v29h-2z"/>
<path fill="#fbd0b8" d="M505 375h2v29h-2zM641 435h2v29h-2zM900 435h1v29h-1zM1082 526h2v29h-2z"/>
<path fill="#f9efe9" d="M507 375h2v29h-2zM857 375h2v29h-2zM1053 375h1v29h-1zM518 405h2v29h-2zM846 405h2v29h-2zM1036 435h2v29h-2zM374 496h2v29h-2zM824 526h2v29h-2z"/>
<path fill="#ee9777" d="M512 375h2v29h-2zM717 526h2v29h-2z"/>
<path fill="#fbd1ba" d="M518 375h2v29h-2zM756 405h2v29h-2zM794 405h2v29h-2zM341 435h2v29h-2zM793 435h1v29h-1zM761 466h2v29h-2zM868 466h2v29h-2zM1171 466h1v29h-1zM404 496h1v29h-1zM654 496h2v29h-2zM717 496h2v29h-2zM734 496h1v29h-1zM798 496h2v29h-2zM442 526h2v29h-2zM1040 526h1v29h-1z"/>
<path fill="#fcd8c3" d="M522 375h1v29h-1zM922 375h1v29h-1zM946 375h1v29h-1zM855 405h2v29h-2zM903 466h2v29h-2z"/>
<path fill="#f9c5ab" d="M523 375h2v29h-2zM828 375h1v29h-1zM1069 375h2v29h-2zM337 405h2v29h-2zM352 405h4v29h-4zM1097 405h2v29h-2zM763 435h2v29h-2zM898 435h2v29h-2zM380 496h1v29h-1zM444 496h2v29h-2zM1075 496h2v29h-2zM935 526h1v29h-1zM1069 526h2v29h-2z"/>
<path fill="#09376b" d="M533 375h1v29h-1z"/>
<path fill="#9ac9e0" d="M536 375h2v29h-2zM798 375h2v29h-2zM977 375h2v29h-2zM520 405h2v29h-2zM1027 405h2v29h-2zM1099 405h1v29h-1zM564 435h2v29h-2zM890 435h2v29h-2zM341 526h2v29h-2zM658 526h2v29h-2z"/>
<path fill="#b2d5e7" d="M540 375h2v29h-2zM450 405h1v29h-1zM562 405h2v29h-2zM735 405h2v29h-2zM520 466h2v29h-2zM798 466h2v29h-2zM1025 466h2v29h-2zM1113 496h2v29h-2z"/>
<path fill="#f29f7e" d="M542 375h2v29h-2zM923 466h2v29h-2zM1095 526h2v29h-2z"/>
<path fill="#286fb1" d="M545 375h2v29h-2z"/>
<path fill="#fac7ad" d="M551 375h2v29h-2zM571 375h2v29h-2zM1010 375h2v29h-2zM857 405h2v29h-2zM619 496h2v29h-2zM632 496h2v29h-2zM510 526h2v29h-2zM601 526h2v29h-2z"/>
<path fill="#f7f5f3" d="M553 375h2v29h-2zM896 375h2v29h-2zM909 405h2v29h-2zM982 435h2v29h-2zM514 496h2v29h-2zM822 496h2v29h-2z"/>
<path fill="#b9d9e9" d="M555 375h2v29h-2zM1086 405h2v29h-2zM927 466h2v29h-2zM699 496h1v29h-1zM1187 496h2v29h-2zM321 526h1v29h-1zM335 526h2v29h-2zM496 526h2v29h-2z"/>
<path fill="#ee9677" d="M560 375h2v29h-2z"/>
<path fill="#2971b1" d="M569 375h2v29h-2z"/>
<path fill="#fbceb7" d="M573 375h2v29h-2zM767 375h2v29h-2zM350 405h2v29h-2zM365 405h2v29h-2zM896 405h2v29h-2zM931 435h2v29h-2z"/>
<path fill="#f19d7c" d="M575 375h2v29h-2zM841 435h1v29h-1zM1065 526h2v29h-2z"/>
<path fill="#fcd6c1" d="M579 375h2v29h-2zM722 405h2v29h-2zM481 435h2v29h-2zM322 496h2v29h-2zM689 496h2v29h-2zM1115 526h2v29h-2z"/>
<path fill="#fac9b0" d="M581 375h1v29h-1zM625 375h2v29h-2zM864 375h2v29h-2zM874 375h2v29h-2zM1147 375h1v29h-1zM370 405h2v29h-2zM852 405h1v29h-1zM669 435h2v29h-2zM1150 435h2v29h-2zM518 466h2v29h-2zM477 496h2v29h-2zM383 526h2v29h-2zM728 526h2v29h-2z"/>
<path fill="#fdd9c4" d="M588 375h2v29h-2zM848 375h2v29h-2zM392 405h2v29h-2zM901 405h2v29h-2zM518 435h2v29h-2zM356 496h1v29h-1z"/>
<path fill="#fddbc8" d="M590 375h2v29h-2zM1029 466h1v29h-1zM389 496h2v29h-2zM652 496h2v29h-2zM575 526h2v29h-2zM734 526h1v29h-1z"/>
<path fill="#79b5d6" d="M593 375h2v29h-2zM923 526h2v29h-2z"/>
<path fill="#f7b89a" d="M597 375h2v29h-2zM1069 405h2v29h-2zM426 435h3v29h-3zM656 526h2v29h-2zM1080 526h2v29h-2z"/>
<path fill="#f7b99c" d="M601 375h2v29h-2zM348 526h2v29h-2z"/>
<path fill="#f6b292" d="M603 375h1v29h-1zM763 405h2v29h-2zM911 405h1v29h-1zM601 435h2v29h-2zM872 435h2v29h-2zM1163 526h2v29h-2zM1183 526h2v29h-2z"/>
<path fill="#fddcc9" d="M604 375h2v29h-2zM831 375h2v29h-2zM1054 375h2v29h-2zM413 405h2v29h-2zM675 405h1v29h-1zM682 405h2v29h-2zM724 405h2v29h-2zM955 405h2v29h-2zM1030 405h2v29h-2zM1060 405h2v29h-2zM475 435h2v29h-2zM717 435h2v29h-2zM789 435h2v29h-2zM951 435h2v29h-2zM1141 435h2v29h-2zM442 466h2v29h-2zM809 466h2v29h-2zM402 496h2v29h-2zM846 496h2v29h-2zM986 526h2v29h-2z"/>
<path fill="#fae8dd" d="M606 375h2v29h-2zM960 375h2v29h-2zM759 405h2v29h-2zM822 405h2v29h-2zM365 435h3v29h-3zM560 435h2v29h-2zM590 435h2v29h-2zM713 435h2v29h-2zM1123 435h1v29h-1zM317 466h2v29h-2zM577 466h2v29h-2zM599 466h2v29h-2zM343 496h2v29h-2zM505 496h2v29h-2zM656 496h2v29h-2zM1156 496h2v29h-2zM800 526h2v29h-2z"/>
<path fill="#f5ae8d" d="M608 375h2v29h-2zM1176 405h2v29h-2z"/>
<path fill="#c94741" d="M614 375h2v29h-2z"/>
<path fill="#fac9af" d="M616 375h1v29h-1zM995 375h2v29h-2zM514 405h2v29h-2zM883 435h2v29h-2zM324 466h2v29h-2z"/>
<path fill="#a8d0e4" d="M617 375h2v29h-2zM990 526h2v29h-2z"/>
<path fill="#0f437b" d="M621 375h2v29h-2zM533 435h1v29h-1z"/>
<path fill="#fbcfb8" d="M627 375h1v29h-1zM955 375h2v29h-2zM383 435h2v29h-2zM623 435h2v29h-2zM818 435h2v29h-2zM1069 435h2v29h-2zM1159 466h2v29h-2zM608 496h2v29h-2zM726 526h2v29h-2z"/>
<path fill="#337eb8" d="M628 375h2v29h-2zM1143 405h2v29h-2zM717 466h2v29h-2z"/>
<path fill="#fac8af" d="M632 375h2v29h-2zM321 435h1v29h-1zM333 435h2v29h-2zM392 435h2v29h-2zM702 466h2v29h-2zM686 526h1v29h-1z"/>
<path fill="#083669" d="M638 375h2v29h-2z"/>
<path fill="#fac8ae" d="M643 375h2v29h-2zM693 405h2v29h-2zM789 405h2v29h-2zM1158 466h1v29h-1zM942 526h2v29h-2z"/>
<path fill="#fcdfce" d="M645 375h2v29h-2zM752 375h2v29h-2zM1137 375h2v29h-2zM356 405h1v29h-1zM641 405h2v29h-2zM680 405h2v29h-2zM770 405h2v29h-2zM877 405h2v29h-2zM903 405h2v29h-2zM1093 405h2v29h-2zM1178 405h2v29h-2zM380 435h1v29h-1zM387 435h2v29h-2zM752 435h2v29h-2zM759 435h2v29h-2zM805 435h2v29h-2zM912 435h4v29h-4zM936 435h2v29h-2zM1139 435h2v29h-2zM877 466h2v29h-2zM1154 466h2v29h-2zM381 496h2v29h-2zM614 496h2v29h-2zM682 496h2v29h-2zM916 496h2v29h-2zM975 496h2v29h-2z"/>
<path fill="#f8f4f2" d="M647 375h2v29h-2zM510 405h2v29h-2zM1075 435h2v29h-2zM734 466h1v29h-1zM909 466h2v29h-2zM385 496h2v29h-2zM498 496h1v29h-1zM599 496h2v29h-2zM994 526h1v29h-1zM1187 526h2v29h-2z"/>
<path fill="#88bfdb" d="M652 375h2v29h-2zM870 526h2v29h-2z"/>
<path fill="#fce0d0" d="M662 375h1v29h-1zM975 375h2v29h-2zM461 405h2v29h-2zM769 405h1v29h-1zM881 405h2v29h-2zM1145 405h2v29h-2zM573 435h2v29h-2zM673 435h2v29h-2zM992 435h2v29h-2zM1145 466h2v29h-2zM617 496h2v29h-2zM953 496h2v29h-2zM1178 496h2v29h-2zM997 526h2v29h-2zM1161 526h2v29h-2z"/>
<path fill="#f8f3f0" d="M663 375h2v29h-2zM509 405h1v29h-1zM947 466h2v29h-2zM1169 466h2v29h-2zM392 496h2v29h-2zM785 496h2v29h-2zM944 496h2v29h-2z"/>
<path fill="#fbe2d4" d="M665 375h2v29h-2zM767 435h2v29h-2zM785 435h2v29h-2zM986 435h2v29h-2zM1178 435h2v29h-2zM1182 435h1v29h-1zM848 466h2v29h-2zM970 466h1v29h-1zM558 496h2v29h-2zM616 496h1v29h-1zM914 496h2v29h-2zM391 526h1v29h-1zM708 526h2v29h-2z"/>
<path fill="#c7e0ed" d="M667 375h2v29h-2zM710 405h1v29h-1zM863 405h1v29h-1zM464 496h2v29h-2zM595 526h2v29h-2zM885 526h2v29h-2z"/>
<path fill="#fcd3bd" d="M676 375h2v29h-2zM822 375h2v29h-2zM485 405h1v29h-1zM494 405h2v29h-2zM1025 405h2v29h-2zM905 435h2v29h-2zM671 496h2v29h-2zM1023 526h2v29h-2z"/>
<path fill="#d4e6f1" d="M678 375h2v29h-2zM1119 375h2v29h-2zM440 405h2v29h-2zM839 405h2v29h-2zM1016 435h2v29h-2zM595 466h2v29h-2zM960 496h4v29h-4z"/>
<path fill="#cfe4ef" d="M680 375h2v29h-2zM1082 375h2v29h-2zM498 526h1v29h-1z"/>
<path fill="#154e8b" d="M684 375h2v29h-2z"/>
<path fill="#a4cee3" d="M687 375h2v29h-2zM699 405h1v29h-1zM652 435h2v29h-2zM619 466h2v29h-2zM770 466h2v29h-2zM828 466h1v29h-1z"/>
<path fill="#317bb7" d="M697 375h2v29h-2zM533 405h1v29h-1zM545 405h2v29h-2zM1088 435h1v29h-1z"/>
<path fill="#d1e5f0" d="M700 375h2v29h-2zM1158 375h1v29h-1zM1165 375h2v29h-2zM1071 405h2v29h-2zM345 466h1v29h-1zM800 466h2v29h-2zM536 496h2v29h-2z"/>
<path fill="#f8bb9e" d="M704 375h2v29h-2zM453 496h2v29h-2zM837 496h2v29h-2zM1082 496h2v29h-2zM652 526h2v29h-2zM772 526h2v29h-2zM829 526h2v29h-2zM888 526h2v29h-2z"/>
<path fill="#9dcbe1" d="M708 375h2v29h-2zM966 375h2v29h-2zM564 405h2v29h-2zM638 466h2v29h-2z"/>
<path fill="#fbd2bb" d="M713 375h2v29h-2zM824 375h2v29h-2zM341 405h2v29h-2zM914 405h2v29h-2zM396 435h2v29h-2zM909 435h2v29h-2zM807 466h2v29h-2zM864 466h2v29h-2zM315 496h2v29h-2zM332 496h1v29h-1zM901 496h2v29h-2z"/>
<path fill="#d2e6f0" d="M715 375h2v29h-2zM730 405h2v29h-2zM966 466h2v29h-2zM479 496h2v29h-2zM833 526h2v29h-2z"/>
<path fill="#d7e8f1" d="M717 375h2v29h-2zM1006 375h2v29h-2zM695 435h2v29h-2zM356 466h1v29h-1zM776 466h2v29h-2zM1080 466h4v29h-4zM606 526h2v29h-2zM1032 526h2v29h-2z"/>
<path fill="#93c5de" d="M719 375h2v29h-2zM437 405h2v29h-2z"/>
<path fill="#f5a987" d="M724 375h2v29h-2zM923 435h2v29h-2zM1041 496h2v29h-2zM514 526h2v29h-2zM929 526h2v29h-2z"/>
<path fill="#77b4d5" d="M726 375h2v29h-2zM640 405h1v29h-1zM647 405h2v29h-2zM1113 405h2v29h-2z"/>
<path fill="#82bbd9" d="M735 375h2v29h-2zM892 526h2v29h-2zM951 526h2v29h-2z"/>
<path fill="#f4a785" d="M743 375h2v29h-2zM673 405h2v29h-2z"/>
<path fill="#10457e" d="M745 375h1v29h-1zM658 435h2v29h-2zM1021 496h2v29h-2z"/>
<path fill="#f9efea" d="M748 375h2v29h-2zM754 375h2v29h-2zM783 375h2v29h-2zM916 405h2v29h-2zM1001 405h2v29h-2zM1148 405h2v29h-2zM894 466h2v29h-2zM907 466h2v29h-2z"/>
<path fill="#ef9979" d="M756 375h2v29h-2zM780 375h2v29h-2zM1049 375h2v29h-2zM750 496h2v29h-2zM1025 526h2v29h-2z"/>
<path fill="#fcd4be" d="M758 375h1v29h-1zM376 435h2v29h-2zM381 435h2v29h-2zM988 435h2v29h-2zM1084 435h2v29h-2zM1152 435h2v29h-2zM503 466h2v29h-2zM953 526h2v29h-2z"/>
<path fill="#e6eff4" d="M759 375h2v29h-2zM1065 375h2v29h-2zM1163 375h2v29h-2zM800 405h2v29h-2zM317 435h2v29h-2zM400 435h2v29h-2zM359 466h2v29h-2zM553 466h2v29h-2zM778 466h2v29h-2zM916 466h2v29h-2zM354 526h2v29h-2zM1132 526h2v29h-2z"/>
<path fill="#bedbeb" d="M761 375h2v29h-2zM662 405h1v29h-1zM868 405h2v29h-2zM663 435h2v29h-2zM949 435h2v29h-2zM490 466h2v29h-2zM398 496h2v29h-2zM352 526h2v29h-2z"/>
<path fill="#fce2d3" d="M763 375h2v29h-2zM988 375h2v29h-2zM787 405h2v29h-2zM874 405h2v29h-2zM1062 405h2v29h-2zM863 435h1v29h-1zM918 496h2v29h-2zM1036 526h2v29h-2z"/>
<path fill="#f9ede6" d="M765 375h2v29h-2zM986 375h2v29h-2zM378 405h2v29h-2zM592 466h1v29h-1zM1183 466h2v29h-2zM660 496h2v29h-2zM805 496h2v29h-2zM1019 496h2v29h-2zM317 526h2v29h-2zM571 526h2v29h-2z"/>
<path fill="#facab1" d="M770 375h2v29h-2zM1071 375h2v29h-2zM459 405h2v29h-2zM828 405h1v29h-1zM391 435h1v29h-1zM632 435h2v29h-2zM741 435h2v29h-2zM857 435h2v29h-2zM896 435h2v29h-2zM1185 496h2v29h-2zM350 526h2v29h-2zM774 526h2v29h-2zM949 526h2v29h-2z"/>
<path fill="#fae7db" d="M774 375h2v29h-2zM1008 375h2v29h-2zM527 405h2v29h-2zM363 435h2v29h-2zM1073 435h2v29h-2zM912 466h2v29h-2zM1136 466h1v29h-1zM1110 496h2v29h-2z"/>
<path fill="#f4a582" d="M778 375h2v29h-2zM669 405h2v29h-2zM569 526h2v29h-2zM876 526h1v29h-1zM966 526h2v29h-2zM1091 526h2v29h-2zM1171 526h1v29h-1z"/>
<path fill="#fbe3d5" d="M782 375h1v29h-1zM846 375h2v29h-2zM850 375h2v29h-2zM936 375h2v29h-2zM345 405h1v29h-1zM474 405h1v29h-1zM691 405h2v29h-2zM322 435h2v29h-2zM455 435h2v29h-2zM472 435h2v29h-2zM774 435h2v29h-2zM1095 435h2v29h-2zM486 466h2v29h-2zM496 466h2v29h-2zM507 466h2v29h-2zM372 496h2v29h-2zM763 496h2v29h-2zM923 496h2v29h-2zM1058 496h2v29h-2zM1139 496h2v29h-2zM1180 496h2v29h-2zM392 526h2v29h-2zM796 526h2v29h-2zM995 526h2v29h-2z"/>
<path fill="#f9ebe3" d="M785 375h2v29h-2zM1089 435h2v29h-2zM387 496h2v29h-2z"/>
<path fill="#f9ede7" d="M787 375h2v29h-2zM1089 375h2v29h-2zM861 405h2v29h-2zM1167 466h2v29h-2z"/>
<path fill="#fbcfb7" d="M789 375h2v29h-2zM579 526h2v29h-2zM767 526h2v29h-2z"/>
<path fill="#f8f4f3" d="M791 375h2v29h-2zM509 466h1v29h-1z"/>
<path fill="#f7b89b" d="M793 375h1v29h-1zM1065 466h2v29h-2z"/>
<path fill="#f9c3a9" d="M794 375h2v29h-2zM558 435h2v29h-2zM791 435h2v29h-2zM831 435h2v29h-2zM839 435h2v29h-2zM485 466h1v29h-1zM710 466h1v29h-1zM1112 466h1v29h-1z"/>
<path fill="#f8f1ed" d="M804 375h1v29h-1zM837 375h2v29h-2zM1150 375h2v29h-2zM842 405h2v29h-2zM1159 405h2v29h-2zM597 435h2v29h-2zM868 435h2v29h-2zM940 435h2v29h-2zM1005 435h1v29h-1zM317 496h2v29h-2zM909 496h2v29h-2zM951 496h2v29h-2zM1069 496h2v29h-2zM1185 526h2v29h-2z"/>
<path fill="#fbe5d9" d="M811 375h2v29h-2zM833 375h2v29h-2zM859 375h2v29h-2zM994 375h1v29h-1zM761 435h2v29h-2zM450 466h1v29h-1zM558 466h2v29h-2zM527 496h2v29h-2zM627 496h1v29h-1z"/>
<path fill="#fdddcb" d="M813 375h2v29h-2zM892 375h2v29h-2zM802 405h2v29h-2zM1047 405h2v29h-2zM643 435h2v29h-2zM711 466h2v29h-2zM494 496h2v29h-2zM964 526h2v29h-2z"/>
<path fill="#fbe2d3" d="M815 375h2v29h-2zM938 375h2v29h-2zM804 435h1v29h-1zM1121 435h2v29h-2zM936 526h2v29h-2z"/>
<path fill="#fae7dc" d="M817 375h1v29h-1zM835 375h2v29h-2zM1110 375h2v29h-2zM525 405h2v29h-2zM678 405h2v29h-2zM765 405h2v29h-2zM995 405h2v29h-2zM1128 405h2v29h-2zM1158 405h1v29h-1zM474 435h1v29h-1zM911 435h1v29h-1zM957 435h2v29h-2zM1156 435h2v29h-2zM330 466h2v29h-2zM492 496h2v29h-2zM979 496h2v29h-2zM1010 496h2v29h-2zM1152 496h2v29h-2zM1167 496h2v29h-2zM387 526h2v29h-2zM402 526h2v29h-2zM960 526h2v29h-2z"/>
<path fill="#fac6ad" d="M826 375h2v29h-2zM907 435h2v29h-2zM1003 466h2v29h-2zM981 496h1v29h-1z"/>
<path fill="#f8f3f1" d="M839 375h2v29h-2zM453 405h2v29h-2zM966 405h2v29h-2zM1054 405h2v29h-2zM616 435h1v29h-1zM560 466h2v29h-2zM846 466h2v29h-2zM911 466h1v29h-1z"/>
<path fill="#e98c6e" d="M841 375h1v29h-1z"/>
<path fill="#f5a986" d="M853 375h2v29h-2z"/>
<path fill="#c84440" d="M855 375h2v29h-2z"/>
<path fill="#f9eee7" d="M861 375h2v29h-2zM837 405h2v29h-2zM872 405h2v29h-2zM905 405h2v29h-2zM737 466h2v29h-2zM892 466h2v29h-2zM593 496h2v29h-2zM1137 496h2v29h-2zM741 526h2v29h-2zM822 526h2v29h-2z"/>
<path fill="#fbceb6" d="M863 375h1v29h-1zM486 405h2v29h-2zM900 405h1v29h-1zM345 435h1v29h-1zM453 435h2v29h-2zM466 435h2v29h-2zM796 435h2v29h-2zM699 466h1v29h-1zM1143 466h2v29h-2zM782 526h1v29h-1z"/>
<path fill="#fbe6da" d="M866 375h2v29h-2zM894 375h2v29h-2zM407 405h2v29h-2zM774 405h4v29h-4zM1043 405h2v29h-2zM512 435h2v29h-2zM627 435h1v29h-1zM748 435h2v29h-2zM758 435h1v29h-1zM901 435h2v29h-2zM1176 435h2v29h-2zM446 466h2v29h-2zM879 466h2v29h-2zM1185 466h2v29h-2zM394 496h2v29h-2zM603 496h1v29h-1zM807 496h2v29h-2zM946 496h1v29h-1zM424 526h2v29h-2zM794 526h2v29h-2z"/>
<path fill="#f6b090" d="M868 375h2v29h-2zM793 405h1v29h-1zM780 435h2v29h-2zM1093 435h2v29h-2zM1078 526h2v29h-2zM1093 526h2v29h-2z"/>
<path fill="#fdddca" d="M872 375h2v29h-2zM999 375h2v29h-2zM1014 375h2v29h-2zM1029 375h1v29h-1zM1128 375h2v29h-2zM468 405h2v29h-2zM579 405h3v29h-3zM938 405h2v29h-2zM992 405h2v29h-2zM1058 405h2v29h-2zM588 435h2v29h-2zM715 435h2v29h-2zM844 435h2v29h-2zM855 435h2v29h-2zM1032 435h2v29h-2zM1043 435h2v29h-2zM1058 435h2v29h-2zM319 496h2v29h-2zM383 496h2v29h-2zM405 496h2v29h-2zM499 496h2v29h-2zM520 496h2v29h-2zM680 496h2v29h-2zM599 526h2v29h-2z"/>
<path fill="#f9c1a5" d="M876 375h3v29h-3zM999 466h2v29h-2zM405 526h2v29h-2z"/>
<path fill="#fcd3bc" d="M881 375h2v29h-2zM853 405h2v29h-2zM343 435h2v29h-2zM710 526h1v29h-1z"/>
<path fill="#0e4179" d="M885 375h2v29h-2zM885 405h2v29h-2zM1104 405h2v29h-2zM597 496h2v29h-2z"/>
<path fill="#deebf2" d="M890 375h2v29h-2zM330 405h2v29h-2zM566 405h2v29h-2zM660 405h2v29h-2zM737 435h2v29h-2zM1119 435h2v29h-2zM1091 466h2v29h-2zM534 496h2v29h-2zM545 496h2v29h-2zM702 496h2v29h-2zM1075 526h2v29h-2zM1180 526h2v29h-2z"/>
<path fill="#f19f7d" d="M898 375h2v29h-2zM1056 496h2v29h-2zM1093 496h2v29h-2zM486 526h2v29h-2z"/>
<path fill="#fae9df" d="M903 375h2v29h-2zM933 375h2v29h-2zM1003 375h2v29h-2zM1073 405h2v29h-2zM1102 435h2v29h-2zM1159 435h2v29h-2zM592 496h1v29h-1zM662 496h1v29h-1z"/>
<path fill="#f8f1ee" d="M905 375h2v29h-2z"/>
<path fill="#f3a280" d="M907 375h2v29h-2zM505 526h2v29h-2z"/>
<path fill="#eb9173" d="M909 375h2v29h-2zM923 405h2v29h-2z"/>
<path fill="#f8f2ee" d="M912 375h2v29h-2zM1003 435h2v29h-2zM440 466h2v29h-2zM721 496h1v29h-1z"/>
<path fill="#f9ece4" d="M914 375h2v29h-2zM1075 405h2v29h-2zM1102 405h2v29h-2zM592 435h1v29h-1zM595 435h2v29h-2zM955 435h2v29h-2zM1006 435h2v29h-2zM590 466h2v29h-2zM516 496h2v29h-2zM787 496h2v29h-2zM1161 496h2v29h-2z"/>
<path fill="#e1ecf3" d="M916 375h2v29h-2zM1080 375h2v29h-2zM686 466h1v29h-1zM1014 496h2v29h-2z"/>
<path fill="#fce0cf" d="M918 375h2v29h-2zM949 375h2v29h-2zM1100 375h2v29h-2zM746 435h2v29h-2zM800 435h2v29h-2zM1124 435h2v29h-2zM1183 435h2v29h-2zM516 466h2v29h-2zM977 526h2v29h-2zM1102 526h2v29h-2z"/>
<path fill="#fcdecc" d="M920 375h2v29h-2zM507 405h2v29h-2zM844 405h2v29h-2zM1040 405h1v29h-1zM477 435h2v29h-2zM676 435h2v29h-2zM776 435h2v29h-2zM981 435h1v29h-1zM1030 435h2v29h-2zM789 466h2v29h-2zM542 496h2v29h-2zM579 496h2v29h-2zM1169 496h2v29h-2zM863 526h1v29h-1zM938 526h2v29h-2z"/>
<path fill="#f7b697" d="M923 375h2v29h-2z"/>
<path fill="#114680" d="M925 375h2v29h-2zM569 496h2v29h-2zM1032 496h2v29h-2z"/>
<path fill="#3c8abe" d="M929 375h2v29h-2zM944 435h2v29h-2zM1104 435h2v29h-2zM339 496h2v29h-2z"/>
<path fill="#fae8de" d="M935 375h1v29h-1zM973 405h2v29h-2zM1180 435h2v29h-2zM820 496h2v29h-2zM809 526h2v29h-2z"/>
<path fill="#fcdecb" d="M942 375h2v29h-2zM1180 375h2v29h-2zM717 405h2v29h-2zM787 435h2v29h-2zM1126 435h2v29h-2zM754 496h2v29h-2z"/>
<path fill="#74b2d4" d="M944 375h2v29h-2zM944 405h2v29h-2zM634 526h2v29h-2z"/>
<path fill="#f9c2a7" d="M947 375h2v29h-2zM463 405h1v29h-1zM1021 405h2v29h-2zM794 435h2v29h-2zM603 466h1v29h-1zM1016 466h2v29h-2z"/>
<path fill="#f9c4aa" d="M953 375h2v29h-2zM536 405h2v29h-2zM726 405h2v29h-2zM625 435h2v29h-2zM881 435h2v29h-2zM514 466h2v29h-2zM962 466h2v29h-2zM1049 466h2v29h-2zM1141 466h2v29h-2zM911 496h1v29h-1zM938 496h2v29h-2zM732 526h2v29h-2zM770 526h2v29h-2z"/>
<path fill="#82bbd8" d="M959 375h1v29h-1z"/>
<path fill="#ea8f71" d="M964 375h2v29h-2zM1182 375h1v29h-1zM995 496h2v29h-2z"/>
<path fill="#95c7df" d="M971 375h2v29h-2z"/>
<path fill="#fce1d1" d="M973 375h2v29h-2zM1075 375h2v29h-2zM1093 375h2v29h-2zM804 405h3v29h-3zM850 405h2v29h-2zM890 405h2v29h-2zM1091 405h2v29h-2zM350 435h2v29h-2zM835 435h2v29h-2zM903 435h2v29h-2zM439 466h1v29h-1zM426 496h1v29h-1zM625 496h2v29h-2zM818 496h2v29h-2zM936 496h2v29h-2zM971 496h2v29h-2zM1112 496h1v29h-1zM573 526h2v29h-2zM962 526h2v29h-2zM1158 526h1v29h-1z"/>
<path fill="#f3a380" d="M979 375h2v29h-2zM485 526h1v29h-1z"/>
<path fill="#e98c6f" d="M981 375h1v29h-1zM542 526h2v29h-2zM676 526h2v29h-2zM918 526h2v29h-2z"/>
<path fill="#e98b6e" d="M982 375h2v29h-2zM1128 435h2v29h-2z"/>
<path fill="#fdd9c5" d="M990 375h2v29h-2zM663 405h2v29h-2zM711 435h2v29h-2zM1159 526h2v29h-2z"/>
<path fill="#fbe5d7" d="M992 375h2v29h-2zM1089 405h2v29h-2zM370 435h2v29h-2zM1034 435h2v29h-2zM584 466h2v29h-2zM651 496h1v29h-1zM879 496h2v29h-2z"/>
<path fill="#fddbc7" d="M1001 375h2v29h-2zM1073 375h2v29h-2zM592 405h1v29h-1zM1134 405h2v29h-2zM516 435h2v29h-2zM1019 466h2v29h-2zM442 496h2v29h-2zM912 496h2v29h-2z"/>
<path fill="#97c8df" d="M1019 375h2v29h-2zM1064 526h1v29h-1z"/>
<path fill="#facbb2" d="M1021 375h2v29h-2zM315 405h2v29h-2zM676 405h2v29h-2zM756 435h2v29h-2zM829 435h2v29h-2zM1145 435h2v29h-2zM1123 466h1v29h-1zM1001 526h2v29h-2z"/>
<path fill="#e88a6d" d="M1023 375h2v29h-2zM839 526h2v29h-2zM920 526h2v29h-2z"/>
<path fill="#a2cde3" d="M1027 375h2v29h-2zM1008 405h2v29h-2zM402 466h2v29h-2z"/>
<path fill="#cee4ef" d="M1034 375h2v29h-2zM693 435h2v29h-2z"/>
<path fill="#bbdaea" d="M1036 375h2v29h-2zM1121 375h2v29h-2zM534 405h2v29h-2zM689 435h2v29h-2zM1132 435h2v29h-2zM1167 435h2v29h-2zM527 466h2v29h-2zM562 466h2v29h-2zM413 496h2v29h-2zM577 496h2v29h-2zM903 496h2v29h-2zM1110 526h2v29h-2z"/>
<path fill="#d6e8f1" d="M1040 375h1v29h-1zM1134 466h2v29h-2z"/>
<path fill="#3884bb" d="M1041 375h2v29h-2zM1078 435h2v29h-2z"/>
<path fill="#cb4942" d="M1045 375h2v29h-2z"/>
<path fill="#f6ae8e" d="M1051 375h2v29h-2zM464 405h2v29h-2zM754 435h2v29h-2zM1023 435h2v29h-2zM752 496h2v29h-2zM826 496h2v29h-2zM389 526h2v29h-2zM724 526h2v29h-2zM1119 526h2v29h-2z"/>
<path fill="#d2e5f0" d="M1056 375h2v29h-2zM490 405h2v29h-2zM568 405h1v29h-1zM1080 435h2v29h-2zM627 466h1v29h-1zM743 496h2v29h-2z"/>
<path fill="#c6e0ed" d="M1058 375h2v29h-2z"/>
<path fill="#e4eef3" d="M1062 375h2v29h-2zM636 405h2v29h-2zM540 496h2v29h-2zM704 496h2v29h-2zM763 526h2v29h-2z"/>
<path fill="#6eaed2" d="M1078 375h2v29h-2zM549 405h2v29h-2zM499 526h2v29h-2zM610 526h2v29h-2z"/>
<path fill="#fbcdb5" d="M1084 375h2v29h-2zM457 405h2v29h-2zM894 405h2v29h-2zM1012 405h2v29h-2zM1045 405h2v29h-2zM1065 405h2v29h-2zM337 435h4v29h-4zM995 435h2v29h-2zM1018 435h1v29h-1zM451 496h2v29h-2zM518 496h2v29h-2zM839 496h2v29h-2zM885 496h2v29h-2z"/>
<path fill="#84bcd9" d="M1086 375h2v29h-2zM1056 405h2v29h-2zM424 435h2v29h-2zM798 435h2v29h-2zM818 466h2v29h-2zM794 496h2v29h-2zM883 526h2v29h-2zM1086 526h2v29h-2z"/>
<path fill="#2970b1" d="M1088 375h1v29h-1zM697 405h2v29h-2z"/>
<path fill="#fbe6d9" d="M1097 375h2v29h-2zM1148 375h2v29h-2zM1038 405h2v29h-2zM1100 405h2v29h-2zM765 435h2v29h-2zM1182 466h1v29h-1zM1136 496h1v29h-1z"/>
<path fill="#7fb9d8" d="M1099 375h1v29h-1zM604 435h2v29h-2z"/>
<path fill="#f8bca0" d="M1102 375h2v29h-2z"/>
<path fill="#5ea4cc" d="M1104 375h2v29h-2zM1150 466h2v29h-2zM566 526h2v29h-2zM671 526h2v29h-2zM1136 526h1v29h-1z"/>
<path fill="#d5e7f1" d="M1113 375h2v29h-2zM1167 375h2v29h-2zM772 405h2v29h-2zM732 435h2v29h-2zM337 466h2v29h-2zM756 466h2v29h-2zM763 466h2v29h-2zM632 526h2v29h-2zM1030 526h2v29h-2z"/>
<path fill="#fac6ac" d="M1123 375h1v29h-1zM811 405h2v29h-2zM815 405h2v29h-2zM997 435h2v29h-2zM722 496h2v29h-2z"/>
<path fill="#f9c6ac" d="M1126 375h2v29h-2zM381 405h2v29h-2zM389 405h2v29h-2zM1023 405h2v29h-2zM1185 435h2v29h-2z"/>
<path fill="#57a0ca" d="M1130 375h2v29h-2zM557 526h1v29h-1z"/>
<path fill="#bddbea" d="M1134 375h2v29h-2zM1141 375h2v29h-2zM933 405h2v29h-2zM501 435h2v29h-2zM404 526h1v29h-1zM654 526h2v29h-2z"/>
<path fill="#dfebf2" d="M1136 375h1v29h-1z"/>
<path fill="#2b73b3" d="M1143 375h2v29h-2z"/>
<path fill="#fcdecd" d="M1152 375h2v29h-2zM981 405h1v29h-1zM999 405h2v29h-2zM328 466h2v29h-2zM579 466h2v29h-2zM1139 466h2v29h-2zM446 496h2v29h-2zM523 496h2v29h-2zM920 496h2v29h-2zM1012 496h2v29h-2z"/>
<path fill="#f7b99b" d="M1154 375h2v29h-2zM999 435h2v29h-2zM450 496h1v29h-1zM1104 496h2v29h-2zM1158 496h3v29h-3z"/>
<path fill="#c2ddec" d="M1156 375h2v29h-2zM689 405h2v29h-2zM916 435h2v29h-2zM691 496h2v29h-2z"/>
<path fill="#d9e9f2" d="M1159 375h2v29h-2zM660 466h2v29h-2zM1071 496h2v29h-2z"/>
<path fill="#3b88be" d="M1161 375h2v29h-2z"/>
<path fill="#3d8bbf" d="M1172 375h2v29h-2zM1171 435h1v29h-1z"/>
<path fill="#fbe7db" d="M1174 375h2v29h-2zM807 405h2v29h-2zM859 435h2v29h-2zM448 496h2v29h-2zM848 496h2v29h-2zM739 526h2v29h-2z"/>
<path fill="#f7f6f5" d="M1176 375h2v29h-2zM866 405h2v29h-2zM769 435h1v29h-1zM588 466h2v29h-2zM1180 466h2v29h-2zM947 496h2v29h-2zM315 526h2v29h-2zM697 526h2v29h-2z"/>
<path fill="#f8bc9f" d="M1185 375h2v29h-2z"/>
<path fill="#4292c3" d="M1187 375h2v29h-2z"/>
<path fill="#d3e6f0" d="M317 405h2v29h-2zM372 435h2v29h-2zM422 435h2v29h-2zM643 466h2v29h-2zM337 496h2v29h-2zM575 496h2v29h-2z"/>
<path fill="#cbe2ee" d="M319 405h2v29h-2zM573 405h2v29h-2zM708 466h2v29h-2zM741 466h2v29h-2z"/>
<path fill="#740421" d="M321 405h1v29h-1zM352 435h2v29h-2zM350 466h2v29h-2zM510 466h2v29h-2z"/>
<path fill="#6e0220" d="M322 405h2v29h-2zM676 466h2v29h-2zM1148 466h2v29h-2z"/>
<path fill="#da6954" d="M324 405h2v29h-2zM378 496h2v29h-2z"/>
<path fill="#f6b495" d="M332 405h1v29h-1zM328 496h2v29h-2zM523 526h2v29h-2zM811 526h2v29h-2z"/>
<path fill="#fbd1bb" d="M333 405h2v29h-2zM356 435h1v29h-1zM1045 435h2v29h-2zM501 526h2v29h-2zM617 526h2v29h-2zM859 526h2v29h-2z"/>
<path fill="#fcd7c2" d="M339 405h2v29h-2zM822 435h2v29h-2zM319 526h2v29h-2z"/>
<path fill="#e5eff4" d="M346 405h2v29h-2zM448 405h2v29h-2zM321 466h1v29h-1zM509 496h1v29h-1z"/>
<path fill="#c3deec" d="M348 405h2v29h-2zM789 496h4v29h-4zM1171 496h1v29h-1zM887 526h1v29h-1z"/>
<path fill="#d35b4b" d="M357 405h2v29h-2z"/>
<path fill="#59a1cb" d="M372 405h2v29h-2zM396 526h2v29h-2zM475 526h2v29h-2z"/>
<path fill="#f8f4f1" d="M376 405h2v29h-2zM938 435h2v29h-2zM1097 435h2v29h-2zM802 526h2v29h-2z"/>
<path fill="#fcd5c0" d="M380 405h1v29h-1zM538 405h2v29h-2zM479 435h2v29h-2zM743 435h2v29h-2zM837 435h2v29h-2zM1088 526h1v29h-1z"/>
<path fill="#a5cee3" d="M402 405h2v29h-2z"/>
<path fill="#9fcbe2" d="M404 405h1v29h-1z"/>
<path fill="#083568" d="M424 405h2v29h-2zM604 405h2v29h-2zM1172 405h2v29h-2z"/>
<path fill="#347fb9" d="M429 405h2v29h-2z"/>
<path fill="#2870b1" d="M435 405h2v29h-2z"/>
<path fill="#99c8e0" d="M439 405h1v29h-1zM475 466h2v29h-2zM531 496h2v29h-2z"/>
<path fill="#e1edf3" d="M442 405h2v29h-2zM418 435h2v29h-2zM512 466h2v29h-2zM936 466h2v29h-2zM905 496h2v29h-2zM735 526h2v29h-2z"/>
<path fill="#ddebf2" d="M446 405h2v29h-2zM1150 405h2v29h-2zM464 466h2v29h-2zM472 466h2v29h-2zM571 466h2v29h-2zM951 466h2v29h-2zM1036 466h2v29h-2zM1132 466h2v29h-2zM1016 496h2v29h-2zM853 526h2v29h-2zM1134 526h2v29h-2z"/>
<path fill="#f9c2a8" d="M455 405h2v29h-2zM918 405h2v29h-2zM459 435h2v29h-2zM842 435h2v29h-2z"/>
<path fill="#f6b394" d="M466 405h2v29h-2zM826 435h2v29h-2zM746 466h2v29h-2zM739 496h2v29h-2zM1102 496h2v29h-2zM1165 496h2v29h-2zM700 526h2v29h-2zM750 526h2v29h-2z"/>
<path fill="#75b2d4" d="M470 405h2v29h-2zM964 496h2v29h-2zM470 526h2v29h-2z"/>
<path fill="#fae9e0" d="M472 405h2v29h-2zM767 405h2v29h-2zM796 405h2v29h-2zM732 466h2v29h-2z"/>
<path fill="#f9ece3" d="M479 405h2v29h-2zM575 466h2v29h-2z"/>
<path fill="#f8f2ef" d="M481 405h2v29h-2zM870 405h2v29h-2zM1018 405h1v29h-1zM1053 405h1v29h-1zM1147 405h1v29h-1zM907 496h2v29h-2z"/>
<path fill="#317cb7" d="M483 405h2v29h-2z"/>
<path fill="#0f447d" d="M488 405h2v29h-2zM636 496h2v29h-2z"/>
<path fill="#e0ecf3" d="M492 405h2v29h-2zM630 405h4v29h-4zM1112 405h1v29h-1zM496 435h2v29h-2zM606 496h2v29h-2zM1027 496h2v29h-2zM1065 496h2v29h-2zM914 526h2v29h-2z"/>
<path fill="#3b88bd" d="M499 405h2v29h-2zM719 405h2v29h-2zM1006 496h2v29h-2z"/>
<path fill="#facbb3" d="M505 405h2v29h-2zM791 405h2v29h-2zM374 435h2v29h-2zM525 435h2v29h-2zM601 466h2v29h-2zM475 496h2v29h-2zM485 496h1v29h-1zM501 496h2v29h-2zM1054 496h2v29h-2zM662 526h1v29h-1zM846 526h2v29h-2z"/>
<path fill="#faccb4" d="M512 405h2v29h-2zM378 435h2v29h-2z"/>
<path fill="#fdd8c3" d="M523 405h2v29h-2zM623 496h2v29h-2z"/>
<path fill="#fddac5" d="M542 405h2v29h-2zM888 405h2v29h-2zM409 435h2v29h-2z"/>
<path fill="#cf5347" d="M558 405h2v29h-2z"/>
<path fill="#a9d1e5" d="M569 405h2v29h-2zM772 466h2v29h-2zM560 496h2v29h-2z"/>
<path fill="#abd2e5" d="M577 405h2v29h-2zM809 405h2v29h-2zM662 435h1v29h-1zM1058 466h2v29h-2zM1045 496h2v29h-2zM1080 496h2v29h-2zM411 526h2v29h-2zM459 526h2v29h-2z"/>
<path fill="#ec9374" d="M582 405h2v29h-2zM1108 526h2v29h-2z"/>
<path fill="#fddcc8" d="M590 405h2v29h-2zM859 405h2v29h-2zM848 435h2v29h-2zM354 496h2v29h-2zM564 496h2v29h-2z"/>
<path fill="#97c8e0" d="M593 405h2v29h-2z"/>
<path fill="#f7b596" d="M597 405h2v29h-2z"/>
<path fill="#f9c3a8" d="M599 405h2v29h-2zM912 405h2v29h-2zM1137 405h2v29h-2zM461 435h2v29h-2zM474 496h1v29h-1zM553 496h2v29h-2zM922 496h1v29h-1zM1049 496h2v29h-2z"/>
<path fill="#d15648" d="M614 405h2v29h-2z"/>
<path fill="#0b3c72" d="M617 405h2v29h-2z"/>
<path fill="#0c3d73" d="M621 405h2v29h-2zM959 405h1v29h-1z"/>
<path fill="#6fafd2" d="M628 405h2v29h-2zM1056 435h2v29h-2zM730 526h2v29h-2z"/>
<path fill="#08366a" d="M638 405h2v29h-2z"/>
<path fill="#62a7ce" d="M652 405h2v29h-2zM977 435h2v29h-2zM879 526h2v29h-2z"/>
<path fill="#09386c" d="M684 405h2v29h-2z"/>
<path fill="#0f437c" d="M706 405h2v29h-2z"/>
<path fill="#f2a17f" d="M715 405h2v29h-2zM1016 526h2v29h-2zM1034 526h2v29h-2z"/>
<path fill="#9bcae1" d="M721 405h1v29h-1zM699 435h1v29h-1zM652 466h2v29h-2z"/>
<path fill="#fbcdb6" d="M728 405h2v29h-2zM826 405h2v29h-2zM354 435h2v29h-2zM542 435h2v29h-2zM759 496h2v29h-2zM992 526h2v29h-2z"/>
<path fill="#f9f0eb" d="M732 405h2v29h-2zM671 435h2v29h-2zM1163 466h2v29h-2z"/>
<path fill="#f9f0ea" d="M734 405h1v29h-1zM879 405h2v29h-2zM962 405h2v29h-2zM368 435h2v29h-2zM614 435h2v29h-2z"/>
<path fill="#ed9576" d="M737 405h2v29h-2zM693 526h2v29h-2zM898 526h2v29h-2zM971 526h2v29h-2z"/>
<path fill="#134a85" d="M745 405h1v29h-1zM411 496h2v29h-2z"/>
<path fill="#fcd5bf" d="M754 405h2v29h-2zM538 526h2v29h-2z"/>
<path fill="#f8bea3" d="M758 405h1v29h-1z"/>
<path fill="#f8f1ec" d="M761 405h2v29h-2zM485 435h1v29h-1zM861 435h2v29h-2z"/>
<path fill="#fce1d0" d="M780 405h2v29h-2zM396 496h2v29h-2z"/>
<path fill="#f8bfa3" d="M782 405h1v29h-1zM813 405h2v29h-2zM429 466h2v29h-2zM890 526h2v29h-2z"/>
<path fill="#f9ece5" d="M785 405h2v29h-2zM922 435h1v29h-1zM953 435h2v29h-2zM566 466h2v29h-2z"/>
<path fill="#c1ddeb" d="M798 405h2v29h-2zM1180 405h2v29h-2zM413 435h2v29h-2zM1008 435h2v29h-2zM695 466h2v29h-2z"/>
<path fill="#f9c0a5" d="M820 405h2v29h-2z"/>
<path fill="#f7f5f4" d="M841 405h1v29h-1zM509 435h1v29h-1zM1060 435h2v29h-2zM1071 435h2v29h-2zM1077 435h1v29h-1zM1091 435h2v29h-2zM488 466h2v29h-2zM841 466h1v29h-1zM833 496h2v29h-2zM877 496h2v29h-2zM973 496h2v29h-2z"/>
<path fill="#fac7ae" d="M848 405h2v29h-2zM1095 405h2v29h-2zM1132 405h2v29h-2zM464 435h2v29h-2zM523 466h2v29h-2zM621 496h2v29h-2z"/>
<path fill="#fcd4bf" d="M883 405h2v29h-2z"/>
<path fill="#faebe2" d="M898 405h2v29h-2zM964 405h2v29h-2zM1014 405h2v29h-2zM1036 405h2v29h-2zM770 435h2v29h-2zM663 466h2v29h-2zM1161 466h2v29h-2zM949 496h2v29h-2z"/>
<path fill="#073567" d="M925 405h2v29h-2z"/>
<path fill="#afd4e6" d="M929 405h2v29h-2zM636 435h2v29h-2z"/>
<path fill="#d55f4c" d="M942 405h2v29h-2z"/>
<path fill="#114780" d="M977 405h2v29h-2z"/>
<path fill="#fddac6" d="M979 405h2v29h-2zM581 435h1v29h-1zM866 435h2v29h-2zM507 496h2v29h-2zM1100 526h2v29h-2z"/>
<path fill="#98c8e0" d="M984 405h2v29h-2zM549 435h2v29h-2zM427 466h2v29h-2zM337 526h2v29h-2z"/>
<path fill="#f5aa89" d="M1003 405h2v29h-2z"/>
<path fill="#5da3cc" d="M1019 405h2v29h-2z"/>
<path fill="#dceaf2" d="M1034 405h2v29h-2zM1049 405h2v29h-2zM461 466h2v29h-2zM662 466h1v29h-1z"/>
<path fill="#0e427a" d="M1041 405h2v29h-2z"/>
<path fill="#6cadd1" d="M1078 405h2v29h-2zM942 496h2v29h-2zM451 526h2v29h-2zM746 526h2v29h-2zM835 526h2v29h-2z"/>
<path fill="#f8f3ef" d="M1088 405h1v29h-1zM1163 405h2v29h-2zM879 435h2v29h-2z"/>
<path fill="#d6e7f1" d="M1108 405h2v29h-2zM437 435h2v29h-2zM479 466h2v29h-2zM466 496h2v29h-2zM1025 496h2v29h-2z"/>
<path fill="#d8e8f1" d="M1110 405h2v29h-2zM553 435h2v29h-2zM929 435h2v29h-2zM354 466h2v29h-2zM474 466h1v29h-1zM494 466h2v29h-2zM1071 466h2v29h-2zM1095 466h2v29h-2zM645 526h2v29h-2zM783 526h2v29h-2z"/>
<path fill="#f7b597" d="M1119 405h2v29h-2zM1126 405h2v29h-2z"/>
<path fill="#f9c4a9" d="M1121 405h2v29h-2zM538 435h2v29h-2zM557 466h1v29h-1zM728 496h2v29h-2z"/>
<path fill="#a1cce2" d="M1130 405h2v29h-2zM1165 435h2v29h-2z"/>
<path fill="#fcd2bc" d="M1136 405h1v29h-1zM846 435h2v29h-2zM955 496h2v29h-2z"/>
<path fill="#a5cfe3" d="M1139 405h2v29h-2z"/>
<path fill="#cde3ef" d="M1152 405h2v29h-2zM953 466h2v29h-2zM1069 466h2v29h-2zM1023 496h2v29h-2z"/>
<path fill="#fddcca" d="M1156 405h2v29h-2z"/>
<path fill="#5aa2cb" d="M1161 405h2v29h-2z"/>
<path fill="#f7ba9d" d="M1165 405h2v29h-2z"/>
<path fill="#b0d4e6" d="M1167 405h2v29h-2zM346 496h2v29h-2zM516 526h2v29h-2z"/>
<path fill="#144c88" d="M1171 405h1v29h-1zM1187 405h2v29h-2z"/>
<path fill="#e7eff4" d="M315 435h2v29h-2zM645 466h2v29h-2zM802 466h2v29h-2zM922 466h1v29h-1zM544 496h1v29h-1zM737 496h2v29h-2zM912 526h2v29h-2z"/>
<path fill="#8ac0db" d="M330 435h2v29h-2zM658 496h2v29h-2zM802 496h2v29h-2zM959 496h1v29h-1zM1128 526h2v29h-2z"/>
<path fill="#cee3ef" d="M335 435h2v29h-2zM735 496h2v29h-2z"/>
<path fill="#a7cfe4" d="M346 435h2v29h-2z"/>
<path fill="#b5d7e8" d="M348 435h2v29h-2zM1097 496h2v29h-2zM477 526h2v29h-2z"/>
<path fill="#f8bfa4" d="M407 435h2v29h-2z"/>
<path fill="#2c74b3" d="M429 435h2v29h-2zM769 496h1v29h-1z"/>
<path fill="#2f79b6" d="M435 435h2v29h-2z"/>
<path fill="#3f8ec0" d="M439 435h1v29h-1z"/>
<path fill="#3885bc" d="M450 435h1v29h-1z"/>
<path fill="#9fcce2" d="M451 435h2v29h-2zM606 466h2v29h-2z"/>
<path fill="#66a9cf" d="M483 435h2v29h-2zM328 526h2v29h-2zM844 526h2v29h-2zM1062 526h2v29h-2z"/>
<path fill="#307ab6" d="M488 435h2v29h-2zM892 496h2v29h-2z"/>
<path fill="#fcd6c0" d="M503 435h2v29h-2zM687 496h2v29h-2zM818 526h2v29h-2z"/>
<path fill="#fae9de" d="M514 435h2v29h-2zM920 435h2v29h-2z"/>
<path fill="#f6af8e" d="M523 435h2v29h-2zM982 496h2v29h-2zM663 526h2v29h-2z"/>
<path fill="#2f78b5" d="M545 435h2v29h-2zM767 496h2v29h-2z"/>
<path fill="#f7b79a" d="M575 435h2v29h-2zM890 466h2v29h-2z"/>
<path fill="#e3eef3" d="M582 435h2v29h-2zM687 466h2v29h-2zM1030 466h2v29h-2zM547 496h2v29h-2zM581 496h1v29h-1zM608 526h2v29h-2zM1130 526h2v29h-2zM1156 526h2v29h-2z"/>
<path fill="#276eb0" d="M593 435h2v29h-2zM734 435h1v29h-1zM490 496h2v29h-2z"/>
<path fill="#f6b192" d="M603 435h1v29h-1zM457 496h2v29h-2zM933 496h2v29h-2z"/>
<path fill="#f4a482" d="M606 435h2v29h-2z"/>
<path fill="#2f79b5" d="M617 435h2v29h-2zM710 496h1v29h-1z"/>
<path fill="#124a85" d="M621 435h2v29h-2zM706 435h2v29h-2z"/>
<path fill="#327db8" d="M628 435h2v29h-2zM844 496h2v29h-2z"/>
<path fill="#5ba2cb" d="M634 435h2v29h-2zM1130 435h2v29h-2zM706 496h2v29h-2zM669 526h2v29h-2zM1089 526h2v29h-2z"/>
<path fill="#3e8dc0" d="M638 435h2v29h-2z"/>
<path fill="#c4deec" d="M665 435h2v29h-2zM1019 435h2v29h-2z"/>
<path fill="#c0dceb" d="M667 435h2v29h-2zM413 466h2v29h-2zM640 466h1v29h-1zM1093 466h2v29h-2zM549 496h2v29h-2zM756 526h2v29h-2z"/>
<path fill="#0a3a6f" d="M684 435h2v29h-2z"/>
<path fill="#2d76b4" d="M697 435h2v29h-2z"/>
<path fill="#aed3e6" d="M702 435h2v29h-2zM1152 466h2v29h-2zM1091 496h2v29h-2zM1018 526h1v29h-1z"/>
<path fill="#63a7ce" d="M719 435h2v29h-2z"/>
<path fill="#91c5de" d="M726 435h2v29h-2z"/>
<path fill="#76b3d4" d="M730 435h2v29h-2zM940 526h2v29h-2z"/>
<path fill="#dfecf3" d="M735 435h2v29h-2zM1034 466h2v29h-2zM1077 466h3v29h-3zM551 496h2v29h-2zM752 526h2v29h-2z"/>
<path fill="#114882" d="M745 435h1v29h-1z"/>
<path fill="#fae8dc" d="M750 435h2v29h-2z"/>
<path fill="#ee9878" d="M813 435h4v29h-4zM481 526h2v29h-2z"/>
<path fill="#fbe6db" d="M864 435h2v29h-2zM625 466h2v29h-2zM844 466h2v29h-2zM914 466h2v29h-2zM977 496h2v29h-2z"/>
<path fill="#e98d6f" d="M874 435h2v29h-2z"/>
<path fill="#f2a07e" d="M876 435h1v29h-1zM385 466h2v29h-2zM332 526h1v29h-1zM695 526h2v29h-2zM807 526h2v29h-2zM1150 526h2v29h-2z"/>
<path fill="#ec9274" d="M877 435h2v29h-2zM680 526h2v29h-2zM1178 526h2v29h-2z"/>
<path fill="#0e4279" d="M885 435h2v29h-2z"/>
<path fill="#f9c1a6" d="M892 435h2v29h-2zM330 496h2v29h-2zM732 496h2v29h-2zM416 526h2v29h-2z"/>
<path fill="#0d4077" d="M925 435h2v29h-2z"/>
<path fill="#0d3f75" d="M959 435h1v29h-1z"/>
<path fill="#ea8e70" d="M979 435h2v29h-2zM940 496h2v29h-2zM330 526h2v29h-2zM877 526h2v29h-2z"/>
<path fill="#f5aa88" d="M1012 435h2v29h-2zM901 526h2v29h-2z"/>
<path fill="#f4a885" d="M1014 435h2v29h-2z"/>
<path fill="#f4a481" d="M1021 435h2v29h-2zM689 526h2v29h-2z"/>
<path fill="#7fb9d7" d="M1027 435h2v29h-2zM488 526h2v29h-2z"/>
<path fill="#3f8ec1" d="M1041 435h2v29h-2z"/>
<path fill="#c9e1ee" d="M1062 435h2v29h-2zM459 466h2v29h-2zM783 466h2v29h-2zM754 526h2v29h-2z"/>
<path fill="#6bacd1" d="M1064 435h1v29h-1zM750 466h2v29h-2zM630 496h2v29h-2zM665 526h2v29h-2z"/>
<path fill="#add3e6" d="M1086 435h2v29h-2z"/>
<path fill="#64a8ce" d="M1099 435h1v29h-1zM1053 466h1v29h-1zM400 526h2v29h-2z"/>
<path fill="#2e77b5" d="M1143 435h2v29h-2zM643 496h2v29h-2z"/>
<path fill="#ed9676" d="M1148 435h2v29h-2zM997 496h2v29h-2zM1172 526h2v29h-2z"/>
<path fill="#f09b7a" d="M1154 435h2v29h-2zM1084 496h2v29h-2z"/>
<path fill="#114781" d="M1161 435h2v29h-2zM1145 496h2v29h-2zM1182 496h1v29h-1z"/>
<path fill="#b0d4e7" d="M1169 435h2v29h-2zM824 466h2v29h-2zM627 526h1v29h-1z"/>
<path fill="#4393c3" d="M1172 435h2v29h-2z"/>
<path fill="#3681ba" d="M1187 435h2v29h-2z"/>
<path fill="#69011f" d="M315 466h2v29h-2z"/>
<path fill="#b1182b" d="M335 466h2v29h-2zM634 466h2v29h-2z"/>
<path fill="#70afd2" d="M367 466h1v29h-1zM610 466h2v29h-2zM374 526h2v29h-2z"/>
<path fill="#c0ddeb" d="M380 466h1v29h-1z"/>
<path fill="#7eb8d7" d="M394 466h2v29h-2zM604 526h2v29h-2z"/>
<path fill="#58a0ca" d="M415 466h1v29h-1zM815 526h2v29h-2zM866 526h4v29h-4z"/>
<path fill="#c94641" d="M424 466h2v29h-2z"/>
<path fill="#a51429" d="M435 466h2v29h-2z"/>
<path fill="#d8e9f1" d="M463 466h1v29h-1z"/>
<path fill="#b8d9e9" d="M466 466h2v29h-2zM982 466h2v29h-2z"/>
<path fill="#bedbea" d="M483 466h2v29h-2zM700 496h2v29h-2zM1112 526h1v29h-1z"/>
<path fill="#7b0622" d="M499 466h2v29h-2z"/>
<path fill="#b3d6e8" d="M533 466h1v29h-1z"/>
<path fill="#a7d0e4" d="M540 466h2v29h-2zM693 466h2v29h-2zM547 526h2v29h-2z"/>
<path fill="#86bdda" d="M549 466h2v29h-2zM643 526h2v29h-2z"/>
<path fill="#93c6de" d="M551 466h2v29h-2zM1058 526h2v29h-2z"/>
<path fill="#6d0220" d="M593 466h2v29h-2zM680 466h2v29h-2z"/>
<path fill="#ec9475" d="M604 466h2v29h-2z"/>
<path fill="#97c7df" d="M632 466h2v29h-2zM474 526h1v29h-1z"/>
<path fill="#d4e6f0" d="M691 466h2v29h-2z"/>
<path fill="#ea8d70" d="M706 466h2v29h-2zM1100 496h2v29h-2z"/>
<path fill="#d0e4f0" d="M713 466h2v29h-2z"/>
<path fill="#f8ba9d" d="M735 466h2v29h-2zM1106 496h2v29h-2zM422 526h2v29h-2z"/>
<path fill="#b41c2d" d="M739 466h2v29h-2z"/>
<path fill="#780522" d="M745 466h1v29h-1zM931 466h2v29h-2z"/>
<path fill="#83bcd9" d="M752 466h2v29h-2z"/>
<path fill="#9bc9e0" d="M758 466h1v29h-1z"/>
<path fill="#bcdbea" d="M785 466h2v29h-2z"/>
<path fill="#cae1ee" d="M787 466h2v29h-2zM992 466h2v29h-2zM1178 466h2v29h-2zM341 496h2v29h-2z"/>
<path fill="#90c4dd" d="M804 466h1v29h-1zM789 526h2v29h-2z"/>
<path fill="#bad9e9" d="M831 466h2v29h-2z"/>
<path fill="#d4e7f1" d="M833 466h2v29h-2zM988 466h2v29h-2z"/>
<path fill="#69abd0" d="M835 466h2v29h-2zM745 496h1v29h-1zM435 526h2v29h-2zM713 526h2v29h-2z"/>
<path fill="#81bad8" d="M837 466h2v29h-2zM531 526h2v29h-2z"/>
<path fill="#92c5de" d="M839 466h2v29h-2zM925 496h2v29h-2z"/>
<path fill="#730421" d="M850 466h2v29h-2z"/>
<path fill="#85bdd9" d="M853 466h2v29h-2zM973 466h2v29h-2zM1097 466h2v29h-2z"/>
<path fill="#c5dfec" d="M870 466h2v29h-2z"/>
<path fill="#85bdda" d="M881 466h2v29h-2zM641 526h2v29h-2zM957 526h2v29h-2z"/>
<path fill="#60a5cd" d="M883 466h2v29h-2zM695 496h2v29h-2zM831 526h2v29h-2z"/>
<path fill="#6dadd1" d="M896 466h2v29h-2zM1054 466h2v29h-2z"/>
<path fill="#f8bda0" d="M944 466h2v29h-2zM525 526h2v29h-2zM842 526h2v29h-2z"/>
<path fill="#720321" d="M946 466h1v29h-1z"/>
<path fill="#8cc1dc" d="M957 466h2v29h-2zM380 526h1v29h-1z"/>
<path fill="#ca4842" d="M959 466h1v29h-1z"/>
<path fill="#f7b799" d="M977 466h2v29h-2z"/>
<path fill="#5da4cc" d="M979 466h2v29h-2zM418 526h2v29h-2zM1012 526h2v29h-2z"/>
<path fill="#e3edf3" d="M1012 466h2v29h-2zM1032 466h2v29h-2zM431 496h2v29h-2zM582 496h2v29h-2z"/>
<path fill="#b3192c" d="M1041 466h2v29h-2z"/>
<path fill="#c2deec" d="M1056 466h2v29h-2zM407 496h4v29h-4z"/>
<path fill="#770522" d="M1060 466h2v29h-2z"/>
<path fill="#5fa5cc" d="M1062 466h2v29h-2z"/>
<path fill="#68abd0" d="M1086 466h2v29h-2z"/>
<path fill="#3a87bd" d="M1100 466h2v29h-2zM621 526h2v29h-2z"/>
<path fill="#95c6df" d="M1115 466h2v29h-2z"/>
<path fill="#cb4b43" d="M1128 466h2v29h-2z"/>
<path fill="#fbe3d6" d="M1165 466h2v29h-2z"/>
<path fill="#f4a683" d="M1174 466h2v29h-2zM553 526h2v29h-2zM805 526h2v29h-2z"/>
<path fill="#68aad0" d="M1176 466h2v29h-2zM582 526h2v29h-2z"/>
<path fill="#ef9878" d="M1187 466h2v29h-2z"/>
<path fill="#faccb3" d="M321 496h1v29h-1zM503 496h2v29h-2z"/>
<path fill="#8fc3dd" d="M326 496h2v29h-2zM931 526h2v29h-2z"/>
<path fill="#4090c1" d="M350 496h2v29h-2z"/>
<path fill="#337db8" d="M365 496h2v29h-2zM868 496h2v29h-2z"/>
<path fill="#9bc9e1" d="M376 496h2v29h-2z"/>
<path fill="#3079b6" d="M439 496h1v29h-1z"/>
<path fill="#f8c0a4" d="M455 496h2v29h-2z"/>
<path fill="#cfe4f0" d="M481 496h2v29h-2z"/>
<path fill="#fcdfcf" d="M496 496h2v29h-2z"/>
<path fill="#fddbc6" d="M512 496h2v29h-2zM1053 496h1v29h-1z"/>
<path fill="#3784bb" d="M522 496h1v29h-1z"/>
<path fill="#a3cde3" d="M562 496h2v29h-2z"/>
<path fill="#c1ddec" d="M573 496h2v29h-2z"/>
<path fill="#71b0d3" d="M628 496h2v29h-2z"/>
<path fill="#3b89be" d="M649 496h2v29h-2z"/>
<path fill="#fcd7c3" d="M665 496h2v29h-2z"/>
<path fill="#5fa5cd" d="M676 496h2v29h-2z"/>
<path fill="#f9c2a6" d="M719 496h2v29h-2z"/>
<path fill="#cce3ef" d="M748 496h2v29h-2zM446 526h2v29h-2z"/>
<path fill="#f3a27f" d="M756 496h2v29h-2z"/>
<path fill="#a9d0e4" d="M770 496h2v29h-2z"/>
<path fill="#68aacf" d="M776 496h2v29h-2zM925 526h2v29h-2z"/>
<path fill="#d25749" d="M780 496h2v29h-2z"/>
<path fill="#d0e5f0" d="M793 496h1v29h-1z"/>
<path fill="#f6b091" d="M811 496h2v29h-2zM492 526h2v29h-2z"/>
<path fill="#78b4d5" d="M815 496h2v29h-2z"/>
<path fill="#286fb0" d="M841 496h1v29h-1z"/>
<path fill="#8cc2dc" d="M857 496h2v29h-2z"/>
<path fill="#124983" d="M864 496h2v29h-2z"/>
<path fill="#ed9475" d="M874 496h2v29h-2zM1176 496h2v29h-2zM534 526h2v29h-2zM564 526h2v29h-2zM675 526h1v29h-1zM804 526h1v29h-1z"/>
<path fill="#d45c4b" d="M887 496h1v29h-1z"/>
<path fill="#f3a381" d="M935 496h1v29h-1z"/>
<path fill="#5ca3cc" d="M966 496h2v29h-2z"/>
<path fill="#f2a07f" d="M986 496h2v29h-2z"/>
<path fill="#2a72b2" d="M1003 496h2v29h-2z"/>
<path fill="#134c88" d="M1029 496h1v29h-1z"/>
<path fill="#83bbd9" d="M1060 496h2v29h-2z"/>
<path fill="#68001f" d="M1088 496h1v29h-1z"/>
<path fill="#d35a4a" d="M1108 496h2v29h-2z"/>
<path fill="#e8896c" d="M1115 496h2v29h-2zM520 526h2v29h-2z"/>
<path fill="#10447d" d="M1123 496h1v29h-1z"/>
<path fill="#73b2d4" d="M1134 496h2v29h-2zM381 526h2v29h-2z"/>
<path fill="#f3a481" d="M1143 496h2v29h-2zM1047 526h2v29h-2z"/>
<path fill="#f09d7c" d="M1150 496h2v29h-2z"/>
<path fill="#f4a784" d="M333 526h2v29h-2z"/>
<path fill="#f9c5aa" d="M345 526h1v29h-1zM894 526h2v29h-2z"/>
<path fill="#b3d6e7" d="M356 526h1v29h-1zM623 526h2v29h-2z"/>
<path fill="#a1cde2" d="M365 526h2v29h-2z"/>
<path fill="#8bc1dc" d="M372 526h2v29h-2z"/>
<path fill="#61a6cd" d="M429 526h2v29h-2zM947 526h2v29h-2z"/>
<path fill="#67a9cf" d="M472 526h2v29h-2z"/>
<path fill="#f09c7b" d="M479 526h2v29h-2zM512 526h2v29h-2zM1167 526h2v29h-2zM1174 526h2v29h-2z"/>
<path fill="#ec9273" d="M490 526h2v29h-2zM984 526h2v29h-2z"/>
<path fill="#f19f7e" d="M494 526h2v29h-2z"/>
<path fill="#8dc2dc" d="M545 526h2v29h-2z"/>
<path fill="#7cb7d7" d="M560 526h2v29h-2z"/>
<path fill="#91c4de" d="M568 526h1v29h-1z"/>
<path fill="#70b0d2" d="M590 526h2v29h-2z"/>
<path fill="#80bad8" d="M592 526h1v29h-1zM857 526h2v29h-2z"/>
<path fill="#72b1d3" d="M630 526h2v29h-2z"/>
<path fill="#7db8d7" d="M636 526h2v29h-2zM975 526h2v29h-2zM999 526h2v29h-2z"/>
<path fill="#7ab6d6" d="M638 526h2v29h-2zM881 526h2v29h-2zM1182 526h1v29h-1z"/>
<path fill="#5aa1cb" d="M647 526h2v29h-2z"/>
<path fill="#67aacf" d="M667 526h2v29h-2zM1006 526h2v29h-2z"/>
<path fill="#f5a988" d="M682 526h2v29h-2z"/>
<path fill="#88bfda" d="M737 526h2v29h-2z"/>
<path fill="#7cb7d6" d="M765 526h2v29h-2zM1137 526h2v29h-2z"/>
<path fill="#fac9b1" d="M769 526h1v29h-1z"/>
<path fill="#8ec3dd" d="M776 526h2v29h-2z"/>
<path fill="#f8bb9f" d="M791 526h2v29h-2z"/>
<path fill="#7eb9d7" d="M828 526h1v29h-1z"/>
<path fill="#65a9cf" d="M837 526h2v29h-2z"/>
<path fill="#89bfdb" d="M896 526h2v29h-2z"/>
<path fill="#94c6df" d="M933 526h2v29h-2zM1143 526h2v29h-2z"/>
<path fill="#75b3d4" d="M944 526h2v29h-2zM1073 526h2v29h-2z"/>
<path fill="#f09b7b" d="M968 526h2v29h-2z"/>
<path fill="#ed9575" d="M973 526h2v29h-2z"/>
<path fill="#78b5d5" d="M979 526h2v29h-2z"/>
<path fill="#e8886c" d="M982 526h2v29h-2z"/>
<path fill="#73b1d3" d="M1005 526h1v29h-1zM1099 526h1v29h-1z"/>
<path fill="#facab2" d="M1008 526h2v29h-2zM1077 526h1v29h-1z"/>
<path fill="#f19e7d" d="M1021 526h2v29h-2z"/>
<path fill="#eb9071" d="M1029 526h1v29h-1z"/>
<path fill="#dfebf3" d="M1054 526h2v29h-2z"/>
<path fill="#ce5045" d="M1056 526h2v29h-2z"/>
<path fill="#ef9a7a" d="M1097 526h2v29h-2z"/>
<path fill="#88beda" d="M1104 526h2v29h-2z"/>
<path fill="#7bb6d6" d="M1113 526h2v29h-2z"/>
<rect x="1199" y="232" width="8" height="8" fill="#f7000c"/>
<text x="1209.5" y="241" font-family="Liberation Sans,sans-serif" font-weight="bold" font-size="11.5" textLength="79.5" lengthAdjust="spacingAndGlyphs" fill="#000">Amplification</text>
<rect x="1199" y="250" width="8" height="8" fill="#1a00ff"/>
<text x="1209.5" y="259" font-family="Liberation Sans,sans-serif" font-weight="bold" font-size="11.5" textLength="80.5" lengthAdjust="spacingAndGlyphs" fill="#000">Deep Deletion</text>
<rect x="1199" y="268" width="8" height="8" fill="#800080"/>
<text x="1209.5" y="277" font-family="Liberation Sans,sans-serif" font-weight="bold" font-size="11.5" textLength="39.3" lengthAdjust="spacingAndGlyphs" fill="#000">Fusion</text>
<rect x="1199" y="286" width="8" height="8" fill="#1f8207"/>
<text x="1209.5" y="295" font-family="Liberation Sans,sans-serif" font-weight="bold" font-size="11.5" textLength="96" lengthAdjust="spacingAndGlyphs" fill="#000">Coding Mutation</text>
<rect x="1199" y="304" width="8" height="8" fill="#808080"/>
<text x="1209.5" y="313" font-family="Liberation Sans,sans-serif" font-weight="bold" font-size="11.5" textLength="89.5" lengthAdjust="spacingAndGlyphs" fill="#000">Other Mutation</text>
<defs><linearGradient id="cb" x1="0" y1="0" x2="0" y2="1"><stop offset="0%" stop-color="#67001f"/><stop offset="10%" stop-color="#b2182b"/><stop offset="20%" stop-color="#d6604d"/><stop offset="30%" stop-color="#f4a582"/><stop offset="40%" stop-color="#fddbc7"/><stop offset="50%" stop-color="#f7f7f7"/><stop offset="60%" stop-color="#d1e5f0"/><stop offset="70%" stop-color="#92c5de"/><stop offset="80%" stop-color="#4393c3"/><stop offset="90%" stop-color="#2166ac"/><stop offset="100%" stop-color="#053061"/></linearGradient></defs>
<rect x="1201.5" y="380.5" width="19" height="186" fill="url(#cb)" stroke="#000" stroke-width="1"/>
<path d="M1227 381.5H1222.5V565.5H1227" fill="none" stroke="#333" stroke-width="1"/>
<text x="1231" y="385.5" font-family="Liberation Sans,sans-serif" font-size="11" fill="#495057">3</text>
<path d="M1222.5 412.5H1227" stroke="#333" stroke-width="1"/>
<text x="1231" y="416.2" font-family="Liberation Sans,sans-serif" font-size="11" fill="#495057">2</text>
<path d="M1222.5 442.5H1227" stroke="#333" stroke-width="1"/>
<text x="1231" y="446.8" font-family="Liberation Sans,sans-serif" font-size="11" fill="#495057">1</text>
<path d="M1222.5 473.5H1227" stroke="#333" stroke-width="1"/>
<text x="1231" y="477.5" font-family="Liberation Sans,sans-serif" font-size="11" fill="#495057">0</text>
<path d="M1222.5 504.5H1227" stroke="#333" stroke-width="1"/>
<text x="1231" y="508.2" font-family="Liberation Sans,sans-serif" font-size="11" fill="#495057">-1</text>
<path d="M1222.5 534.5H1227" stroke="#333" stroke-width="1"/>
<text x="1231" y="538.9" font-family="Liberation Sans,sans-serif" font-size="11" fill="#495057">-2</text>
<text x="1231" y="569.5" font-family="Liberation Sans,sans-serif" font-size="11" fill="#495057">-3</text>
</svg>
<span class="lbl" style="left:1106px;top:101px;font-weight:bold;color:#000">474 samples</span>
<span class="gl" style="top:151px;font-style:italic">Race</span>
<span class="gl" style="top:181px;font-style:italic">Sex</span>
<span class="gl" style="top:221px">BRAF</span>
<span class="gl" style="top:251px">KRAS</span>
<span class="gl" style="top:281px">PIK3CA</span>
<span class="gl" style="top:311px">CDK4</span>
<span class="gl" style="top:341px">TMEM216</span>
<span class="gl" style="top:380px">BRAF</span>
<span class="gl" style="top:410px">KRAS</span>
<span class="gl" style="top:440px">PIK3CA</span>
<span class="gl" style="top:470px">CDK4</span>
<span class="gl" style="top:500px">TMEM216</span>
<span class="gl" style="top:531px">XIST</span>
<!-- h scrollbar -->
<div class="abs" style="left:237px;top:600px;width:1045px;height:15px;background:#f1f1f1"></div>
<div class="abs" style="left:252px;top:602px;width:897px;height:11px;background:#c1c1c1"></div>
<div class="abs" style="left:242px;top:603px;border-top:4.5px solid transparent;border-bottom:4.5px solid transparent;border-right:5px solid #a3a3a3"></div>
<div class="abs" style="left:1272px;top:603px;border-top:4.5px solid transparent;border-bottom:4.5px solid transparent;border-left:5px solid #505050"></div>

<!-- right gutter -->
<div class="abs" style="left:1283px;top:44px;width:8px;height:637px;background:linear-gradient(90deg,#dcdee2 0,#e4e6ea 1.5px,#e8eaed 60%,#eceef1)"></div>
<div class="grip" style="left:1285px"></div>
<div class="abs" style="left:1285px;top:382px;border-top:2.5px solid transparent;border-bottom:2.5px solid transparent;border-left:4.5px solid #3f4a70"></div>

<!-- right panel -->
<div class="panel" style="left:1290px;top:44px;width:120px;height:637px">
 <div class="phead"></div>
</div>
<div class="btn" style="left:1294px;top:49px;width:76px"><svg style="left:8.5px;top:8px" width="11" height="11" viewBox="0 0 11 11"><path d="M5.5 0.3v10.4M0.3 5.5h10.4" stroke="#495057" stroke-width="2.3" fill="none"/></svg><span style="left:25px">Filters</span></div>
<div class="btn" style="left:1376px;top:49px;width:40px"><svg style="left:8px;top:8px" width="14" height="14" viewBox="0 0 14 14"><path d="M0.3 0.8H13.7L8.6 6.6V11.2L5.4 13.4V6.6z" fill="#495057"/></svg></div>
<div class="fh" style="top:83px"><span>Sample Type</span></div>
<span class="lnk" style="left:1297px;top:119px">Check All</span>
<span class="lnk" style="left:1379px;top:119px">Clear All</span>
<div class="cb" style="top:137px"><svg width="12" height="12" viewBox="0 0 12 12"><path d="M1.9 6.3L4.7 9.2L10.4 2.8" stroke="#2b7cd6" stroke-width="1.7" fill="none"/></svg></div><span class="cl" style="top:137px">Additional me</span>
<div class="cb" style="top:159px"><svg width="12" height="12" viewBox="0 0 12 12"><path d="M1.9 6.3L4.7 9.2L10.4 2.8" stroke="#2b7cd6" stroke-width="1.7" fill="none"/></svg></div><span class="cl" style="top:159px">Metastatic</span>
<div class="cb" style="top:181px"><svg width="12" height="12" viewBox="0 0 12 12"><path d="M1.9 6.3L4.7 9.2L10.4 2.8" stroke="#2b7cd6" stroke-width="1.7" fill="none"/></svg></div><span class="cl" style="top:181px">Primary tumo</span>
<div class="cb" style="top:203px"><svg width="12" height="12" viewBox="0 0 12 12"><path d="M1.9 6.3L4.7 9.2L10.4 2.8" stroke="#2b7cd6" stroke-width="1.7" fill="none"/></svg></div><span class="cl" style="top:203px">Solid tissue n</span>
<div class="cb" style="top:225px"><svg width="12" height="12" viewBox="0 0 12 12"><path d="M1.9 6.3L4.7 9.2L10.4 2.8" stroke="#2b7cd6" stroke-width="1.7" fill="none"/></svg></div><span class="cl" style="top:225px">[NA]</span>
<div class="fh" style="top:245px"><span>Sex</span></div>
<span class="lnk" style="left:1297px;top:281px">Check All</span>
<span class="lnk" style="left:1379px;top:281px">Clear All</span>
<div class="cb" style="top:299px"><svg width="12" height="12" viewBox="0 0 12 12"><path d="M1.9 6.3L4.7 9.2L10.4 2.8" stroke="#2b7cd6" stroke-width="1.7" fill="none"/></svg></div><span class="cl" style="top:299px">Male</span>
<div class="cb" style="top:321px"><svg width="12" height="12" viewBox="0 0 12 12"><path d="M1.9 6.3L4.7 9.2L10.4 2.8" stroke="#2b7cd6" stroke-width="1.7" fill="none"/></svg></div><span class="cl" style="top:321px">Female</span>
<div class="fh" style="top:341px"><span>Race</span></div>
<span class="lnk" style="left:1297px;top:377px">Check All</span>
<span class="lnk" style="left:1379px;top:377px">Clear All</span>
<div class="cb" style="top:395px"><svg width="12" height="12" viewBox="0 0 12 12"><path d="M1.9 6.3L4.7 9.2L10.4 2.8" stroke="#2b7cd6" stroke-width="1.7" fill="none"/></svg></div><span class="cl" style="top:395px">White</span>
<div class="cb" style="top:417px"><svg width="12" height="12" viewBox="0 0 12 12"><path d="M1.9 6.3L4.7 9.2L10.4 2.8" stroke="#2b7cd6" stroke-width="1.7" fill="none"/></svg></div><span class="cl" style="top:417px">Black or Afric</span>
<div class="cb" style="top:439px"><svg width="12" height="12" viewBox="0 0 12 12"><path d="M1.9 6.3L4.7 9.2L10.4 2.8" stroke="#2b7cd6" stroke-width="1.7" fill="none"/></svg></div><span class="cl" style="top:439px">Asian</span>
<div class="cb" style="top:461px"><svg width="12" height="12" viewBox="0 0 12 12"><path d="M1.9 6.3L4.7 9.2L10.4 2.8" stroke="#2b7cd6" stroke-width="1.7" fill="none"/></svg></div><span class="cl" style="top:461px">[NA]</span>
<div class="abs" style="left:1291px;top:482px;width:120px;height:1px;background:#dee2e6"></div>

<div class="abs" id="edgeL"></div>
<div class="abs" id="edgeB"></div>
<div class="abs" style="left:0;top:687px;width:1px;height:1px;background:#555"></div>
</body></html>
